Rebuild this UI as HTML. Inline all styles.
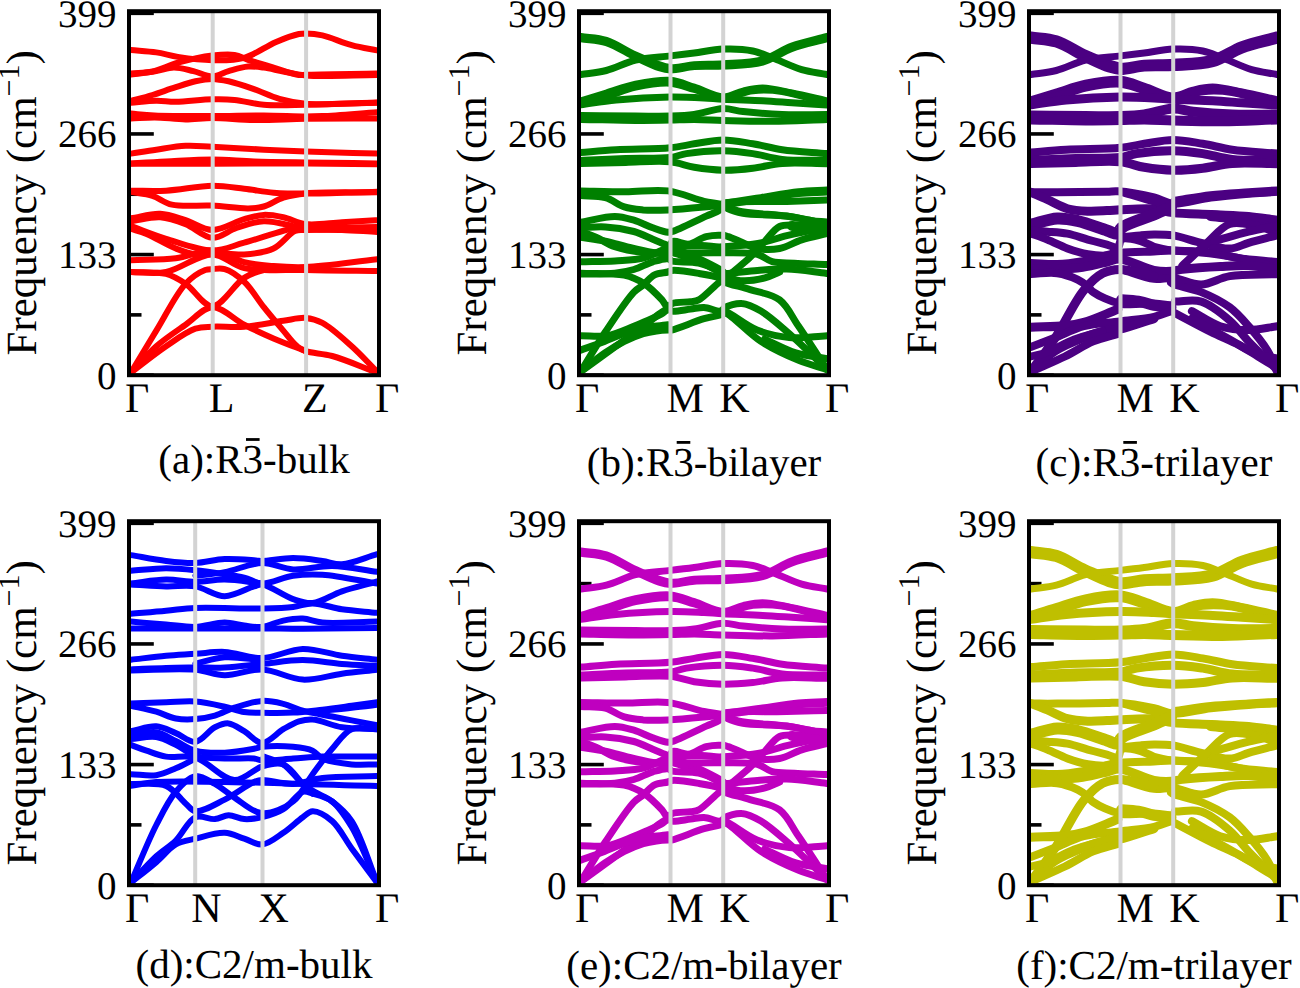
<!DOCTYPE html><html><head><meta charset="utf-8"><style>html,body{margin:0;padding:0;background:#fff;width:1300px;height:988px;overflow:hidden}svg{display:block}text{font-family:"Liberation Serif",serif;fill:#000;text-rendering:geometricPrecision}</style></head><body>
<svg width="1300" height="988" viewBox="0 0 1300 988">
<rect width="1300" height="988" fill="#fff"/>
<line x1="129.0" y1="375.20" x2="153.8" y2="375.20" stroke="#000" stroke-width="3.6"/>
<line x1="129.0" y1="254.57" x2="153.8" y2="254.57" stroke="#000" stroke-width="3.6"/>
<line x1="129.0" y1="133.94" x2="153.8" y2="133.94" stroke="#000" stroke-width="3.6"/>
<line x1="129.0" y1="13.31" x2="153.8" y2="13.31" stroke="#000" stroke-width="3.6"/>
<line x1="129.0" y1="314.88" x2="141.5" y2="314.88" stroke="#000" stroke-width="3.6"/>
<line x1="129.0" y1="194.25" x2="141.5" y2="194.25" stroke="#000" stroke-width="3.6"/>
<line x1="129.0" y1="73.62" x2="141.5" y2="73.62" stroke="#000" stroke-width="3.6"/>
<clipPath id="cpa"><rect x="129.0" y="11.2" width="250.0" height="364.0"/></clipPath>
<g clip-path="url(#cpa)" fill="none" stroke="#ff0000" stroke-width="6" stroke-linecap="round" stroke-linejoin="round">
<path d="M130.9,50.0 C139.4,50.8 148.2,51.2 156.3,52.4 C163.8,53.5 169.8,55.6 177.8,56.9 C187.9,58.4 201.1,60.1 212.4,60.2 C223.2,60.3 233.9,60.7 244.2,57.8 C255.0,54.9 265.7,46.4 275.5,42.2 C283.8,38.7 293.4,35.2 298.9,34.0 C301.9,33.4 303.0,33.4 305.8,33.4 C310.1,33.5 316.2,34.0 322.4,35.4 C330.9,37.3 342.2,42.6 351.7,45.1 C360.4,47.5 368.6,48.7 377.1,50.4"/>
<path d="M130.9,73.5 C138.1,72.8 145.0,73.1 152.4,71.5 C160.6,69.8 168.6,65.3 177.8,62.7 C188.4,59.8 202.1,56.7 212.4,55.5 C220.5,54.6 228.1,53.9 234.5,54.9 C239.7,55.7 242.9,58.0 248.1,59.8 C255.3,62.2 265.1,65.1 273.5,67.6 C282.0,70.2 293.1,74.4 298.9,75.0 C301.9,75.4 302.3,74.8 305.8,74.7 C317.0,74.2 353.3,73.9 377.1,73.5"/>
<path d="M130.9,74.5 C139.4,73.3 148.6,72.4 156.3,71.1 C162.7,70.1 167.9,67.7 173.9,67.6 C180.2,67.6 187.0,69.7 193.4,71.1 C199.8,72.6 206.3,76.5 212.4,76.4 C218.0,76.3 222.9,72.7 228.6,71.1 C234.8,69.4 242.0,67.1 248.1,66.6 C253.6,66.2 258.3,66.9 263.8,67.6 C269.9,68.4 276.6,70.3 283.3,71.5 C290.5,72.9 296.1,74.6 305.8,75.4 C322.8,76.9 353.3,75.2 377.1,75.0"/>
<path d="M130.9,100.8 C138.1,98.9 145.1,97.2 152.4,95.0 C160.1,92.6 168.4,89.5 175.8,87.2 C182.6,85.0 189.0,82.7 195.4,81.3 C201.2,80.0 206.8,78.9 212.4,78.9 C217.9,79.0 222.6,80.0 228.6,81.3 C236.2,83.0 245.6,86.2 254.0,89.1 C262.5,92.1 270.7,96.4 279.4,98.9 C288.0,101.3 294.8,102.8 305.8,103.8 C323.7,105.3 353.3,103.1 377.1,102.8"/>
<path d="M130.9,102.8 C139.4,102.1 148.4,100.9 156.3,100.8 C163.2,100.7 168.3,101.9 175.8,101.8 C186.1,101.7 201.7,99.5 212.4,99.3 C220.7,99.1 226.6,99.1 234.5,99.9 C243.6,100.7 253.1,103.9 263.8,104.7 C276.5,105.8 289.9,105.0 305.8,104.7 C326.4,104.4 353.3,103.2 377.1,102.4"/>
<path d="M130.9,113.5 C138.7,114.2 144.8,115.0 154.4,115.5 C169.4,116.2 193.6,116.1 212.4,116.1 C230.0,116.1 247.5,115.4 263.8,115.5 C278.5,115.6 295.0,116.5 305.8,116.5 C312.6,116.5 315.3,116.4 322.4,116.1 C335.4,115.5 358.9,113.5 377.1,112.2"/>
<path d="M130.9,118.4 C138.7,118.1 146.0,117.4 154.4,117.4 C164.0,117.5 175.6,119.3 185.6,119.4 C194.9,119.4 202.5,118.0 212.4,118.0 C224.7,118.0 239.4,119.8 254.0,120.0 C270.3,120.2 287.1,119.1 305.8,118.8 C327.7,118.5 353.3,118.5 377.1,118.4"/>
<path d="M130.9,153.6 C139.4,152.3 147.5,150.9 156.3,149.7 C165.7,148.3 176.0,146.2 185.6,145.8 C194.7,145.3 202.0,146.3 212.4,146.7 C226.7,147.4 247.5,148.8 263.8,149.7 C278.5,150.4 289.9,151.0 305.8,151.6 C326.4,152.4 353.3,152.9 377.1,153.6"/>
<path d="M130.9,163.4 C142.6,162.7 153.5,162.0 166.1,161.4 C180.5,160.7 197.4,159.4 212.4,159.4 C226.6,159.5 239.4,160.9 254.0,161.4 C270.3,161.9 287.1,162.1 305.8,162.4 C327.7,162.7 353.3,163.0 377.1,163.4"/>
<path d="M130.9,163.7 C158.1,163.7 184.3,163.8 212.4,163.7 C242.5,163.7 276.7,163.2 305.8,163.4 C331.2,163.5 353.3,164.0 377.1,164.3"/>
<path d="M130.9,190.7 C142.6,190.7 153.6,191.4 166.1,190.7 C180.5,190.0 198.4,185.9 212.4,185.8 C224.0,185.7 233.8,187.6 244.2,188.8 C254.2,189.9 263.5,191.8 273.5,192.7 C284.0,193.5 292.9,193.6 305.8,193.6 C324.9,193.7 353.3,192.3 377.1,191.7"/>
<path d="M130.9,191.9 C138.1,193.2 145.5,193.7 152.4,195.8 C159.2,197.9 164.0,202.8 171.9,204.6 C182.8,207.1 199.3,204.9 212.4,205.6 C224.7,206.2 238.7,208.7 248.1,208.5 C254.4,208.4 258.4,208.0 263.8,206.5 C270.1,204.8 276.4,199.9 283.3,197.7 C290.4,195.5 296.1,194.4 305.8,193.4 C322.8,191.7 353.3,192.7 377.1,192.3"/>
<path d="M130.9,218.3 C140.7,216.8 150.8,213.3 160.2,213.8 C169.0,214.2 177.1,217.6 185.6,220.2 C194.5,223.0 203.1,229.9 212.4,230.0 C222.5,230.1 234.8,221.8 244.2,219.2 C251.5,217.2 257.2,215.3 263.8,214.9 C270.3,214.6 276.6,215.9 283.3,217.3 C290.6,218.8 297.3,223.1 305.8,224.1 C316.3,225.4 330.0,222.8 341.9,222.2 C353.7,221.5 365.4,220.9 377.1,220.2"/>
<path d="M130.9,221.2 C140.7,219.9 150.9,216.7 160.2,217.3 C169.0,217.9 177.2,220.9 185.6,224.1 C194.6,227.6 203.6,237.4 212.4,237.8 C220.5,238.2 228.0,230.8 236.4,228.0 C245.1,225.2 254.5,221.6 263.8,221.2 C273.3,220.8 285.3,224.5 293.1,226.1 C298.2,227.1 300.4,228.3 305.8,229.0 C314.7,230.1 330.0,229.5 341.9,230.0 C353.7,230.5 365.4,231.3 377.1,231.9"/>
<path d="M130.9,226.1 C142.6,230.3 153.4,234.9 166.1,238.8 C180.4,243.2 198.4,250.4 212.4,250.5 C224.0,250.5 232.4,245.8 244.2,242.7 C259.2,238.7 284.3,229.5 295.0,228.0 C299.9,227.3 300.6,228.1 305.8,228.0 C319.1,227.9 353.3,227.4 377.1,227.1"/>
<path d="M130.9,229.0 C136.1,230.6 140.6,231.5 146.5,233.9 C154.9,237.3 166.9,245.0 175.8,248.5 C182.9,251.3 189.0,253.8 195.4,254.4 C201.2,254.9 205.8,252.6 212.4,252.5 C221.3,252.2 233.9,255.1 244.2,254.4 C254.3,253.7 265.0,252.6 273.5,248.5 C281.8,244.6 288.7,233.5 295.0,231.0 C299.0,229.4 300.6,230.3 305.8,230.0 C319.1,229.3 353.3,229.3 377.1,229.0"/>
<path d="M130.9,260.3 C145.9,259.6 161.7,260.1 175.8,258.3 C188.7,256.7 200.7,249.7 212.4,250.5 C223.5,251.3 233.7,259.6 244.2,262.2 C254.1,264.7 263.5,265.3 273.5,266.1 C284.0,267.0 293.0,267.6 305.8,267.1 C324.9,266.4 353.3,261.9 377.1,259.3"/>
<path d="M130.9,272.0 C142.6,272.0 153.8,274.3 166.1,272.0 C180.7,269.3 198.4,254.1 212.4,254.4 C224.0,254.7 231.6,265.3 244.2,268.1 C261.1,271.8 284.5,269.6 305.8,270.0 C328.7,270.6 353.3,270.7 377.1,271.0"/>
<path d="M130.9,372.6 C139.4,358.6 147.5,345.0 156.3,330.6 C165.7,315.4 175.8,294.1 185.6,283.7 C192.1,276.9 200.0,272.0 205.2,270.0 C208.0,268.9 209.6,269.2 212.4,269.1 C215.9,268.8 220.3,267.8 224.7,269.1 C230.7,270.8 238.2,276.2 244.2,281.8 C251.4,288.3 257.2,298.9 263.8,307.2 C270.2,315.2 277.3,323.6 283.3,330.6 C288.2,336.4 292.6,342.7 297.0,346.2 C300.0,348.7 301.9,349.7 305.8,351.1 C312.1,353.4 322.3,353.3 332.2,356.0 C345.3,359.6 362.1,367.1 377.1,372.6"/>
<path d="M130.9,272.0 C142.6,272.6 156.3,271.3 166.1,273.9 C173.8,276.0 178.9,279.3 185.6,283.7 C194.2,289.3 203.1,306.3 212.4,306.2 C222.6,306.0 234.4,283.9 244.2,277.9 C251.1,273.6 255.9,271.8 263.8,270.0 C275.0,267.6 291.8,268.7 305.8,268.1"/>
<path d="M130.9,372.6 C139.4,363.8 147.2,354.2 156.3,346.2 C165.4,338.3 176.0,331.4 185.6,324.7 C194.7,318.5 203.0,307.5 212.4,307.2 C222.4,306.8 233.7,319.4 244.2,324.7 C254.1,329.8 263.5,334.1 273.5,338.4 C284.0,342.9 295.0,346.9 305.8,351.1"/>
<path d="M130.9,372.6 C142.6,363.8 154.7,353.9 166.1,346.2 C176.1,339.5 186.6,331.6 195.4,328.7 C201.6,326.6 205.8,327.1 212.4,326.7 C221.3,326.2 233.1,327.5 244.2,326.7 C256.6,325.8 272.1,322.4 283.3,320.8 C291.8,319.6 298.9,317.4 305.8,317.9 C311.8,318.4 316.4,319.7 322.4,322.8 C331.2,327.4 342.5,338.0 351.7,346.2 C360.7,354.3 368.6,363.2 377.1,371.6"/>
</g>
<line x1="212.7" y1="11.2" x2="212.7" y2="375.2" stroke="#d3d3d3" stroke-width="4"/>
<line x1="306.1" y1="11.2" x2="306.1" y2="375.2" stroke="#d3d3d3" stroke-width="4"/>
<rect x="129.0" y="11.2" width="250" height="364" fill="none" stroke="#000" stroke-width="4"/>
<text x="116.5" y="388.5" font-size="39" text-anchor="end">0</text>
<text x="116.5" y="267.9" font-size="39" text-anchor="end">133</text>
<text x="116.5" y="147.2" font-size="39" text-anchor="end">266</text>
<text x="116.5" y="26.6" font-size="39" text-anchor="end">399</text>
<text x="125.0" y="411.8" font-size="42">Γ</text>
<text x="208.7" y="411.8" font-size="42">L</text>
<text x="302.1" y="411.8" font-size="42">Z</text>
<text x="375.0" y="411.8" font-size="42">Γ</text>
<text transform="translate(36.2,202.8) rotate(-90)" font-size="43" text-anchor="middle">Frequency (cm<tspan font-size="30" dy="-17">−1</tspan><tspan dy="17">)</tspan></text>
<text x="254.0" y="472.7" font-size="41" text-anchor="middle">(a):R3-bulk</text>
<rect x="246.0" y="438.1" width="13.6" height="2.8" fill="#000"/>
<line x1="579.0" y1="375.20" x2="603.8" y2="375.20" stroke="#000" stroke-width="3.6"/>
<line x1="579.0" y1="254.57" x2="603.8" y2="254.57" stroke="#000" stroke-width="3.6"/>
<line x1="579.0" y1="133.94" x2="603.8" y2="133.94" stroke="#000" stroke-width="3.6"/>
<line x1="579.0" y1="13.31" x2="603.8" y2="13.31" stroke="#000" stroke-width="3.6"/>
<line x1="579.0" y1="314.88" x2="591.5" y2="314.88" stroke="#000" stroke-width="3.6"/>
<line x1="579.0" y1="194.25" x2="591.5" y2="194.25" stroke="#000" stroke-width="3.6"/>
<line x1="579.0" y1="73.62" x2="591.5" y2="73.62" stroke="#000" stroke-width="3.6"/>
<clipPath id="cpb"><rect x="579.0" y="11.2" width="250.0" height="364.0"/></clipPath>
<g clip-path="url(#cpb)" fill="none" stroke="#008000" stroke-width="7" stroke-linecap="round" stroke-linejoin="round">
<path d="M580.9,36.4 C589.4,37.7 597.8,37.5 606.3,40.3 C616.0,43.3 625.3,50.5 635.6,54.9 C646.6,59.6 659.8,66.4 670.4,67.6 C679.0,68.6 685.9,65.3 694.2,64.7 C703.4,64.0 712.8,64.4 723.2,63.7 C735.3,62.9 750.7,63.1 762.6,59.8 C773.4,56.8 781.5,50.0 791.9,46.1 C803.0,42.0 815.4,39.6 827.1,36.4"/>
<path d="M580.9,38.7 C589.4,40.0 597.8,39.9 606.3,42.6 C616.0,45.7 626.3,52.9 635.6,57.3 C643.8,61.1 652.6,65.5 659.1,67.6 C663.4,69.0 665.9,69.8 670.4,70.0 C676.9,70.2 685.9,67.3 694.2,66.6 C703.4,65.9 712.8,66.7 723.2,66.1 C735.3,65.3 750.7,65.4 762.6,62.1 C773.4,59.2 781.5,52.3 791.9,48.5 C803.0,44.4 815.4,42.0 827.1,38.7"/>
<path d="M580.9,74.5 C589.4,73.2 597.6,72.7 606.3,70.5 C615.8,68.2 625.3,62.6 635.6,60.2 C646.6,57.6 659.9,57.2 670.4,55.9 C679.1,54.8 685.9,54.0 694.2,53.0 C703.4,51.8 713.4,49.4 723.2,49.1 C733.0,48.7 744.1,49.2 752.8,51.0 C760.2,52.5 765.3,55.2 772.4,57.8 C781.2,61.2 792.1,66.8 801.7,69.6 C810.3,72.1 818.6,72.8 827.1,74.5"/>
<path d="M580.9,100.8 C589.4,98.2 597.5,95.7 606.3,93.0 C615.7,90.2 625.3,86.3 635.6,84.2 C646.6,82.0 660.0,79.4 670.4,80.3 C679.2,81.1 685.9,84.6 694.2,87.2 C703.4,90.0 714.4,96.8 723.2,96.9 C730.4,97.1 736.4,92.5 743.1,91.1 C749.6,89.6 755.5,88.1 762.6,88.1 C771.4,88.2 781.7,91.0 791.9,93.0 C803.1,95.2 815.4,98.2 827.1,100.8"/>
<path d="M580.9,103.2 C589.4,101.0 597.6,99.1 606.3,96.5 C615.8,93.8 625.3,89.4 635.6,87.2 C646.6,84.8 660.0,82.5 670.4,83.2 C679.2,83.9 685.9,87.2 694.2,89.5 C703.4,92.0 713.4,97.7 723.2,97.9 C733.0,98.1 742.9,91.7 752.8,90.7 C762.6,89.6 771.4,89.9 782.2,91.5 C795.6,93.4 812.1,99.3 827.1,103.2"/>
<path d="M580.9,104.7 C592.6,103.1 603.1,101.1 616.1,99.9 C632.2,98.3 654.4,97.1 670.4,96.9 C682.9,96.8 694.4,97.4 704.0,97.9 C711.3,98.3 715.6,98.9 723.2,99.3 C733.9,99.9 750.4,100.2 762.6,100.8 C773.1,101.4 781.7,102.1 791.9,102.8 C803.1,103.5 815.4,104.3 827.1,105.1"/>
<path d="M580.9,115.5 C599.1,115.7 619.4,116.0 635.6,116.1 C648.5,116.1 659.9,116.4 670.4,116.1 C679.1,115.8 685.9,115.6 694.2,114.5 C703.4,113.3 714.4,108.9 723.2,108.6 C730.4,108.5 735.3,110.7 743.1,111.6 C753.9,112.8 768.7,114.0 782.2,114.5 C796.6,115.1 812.1,114.5 827.1,114.5"/>
<path d="M580.9,119.4 C599.1,119.7 619.4,120.3 635.6,120.4 C648.5,120.4 659.9,120.2 670.4,120.0 C679.1,119.8 685.9,119.4 694.2,119.4 C703.4,119.4 712.2,120.1 723.2,120.4 C737.4,120.8 755.5,121.5 772.4,121.3 C790.1,121.2 808.9,120.0 827.1,119.4"/>
<path d="M580.9,152.6 C592.6,151.6 603.1,150.5 616.1,149.7 C632.2,148.7 656.0,149.2 670.4,147.7 C680.0,146.8 685.9,145.1 694.2,143.8 C703.4,142.4 713.4,139.9 723.2,139.9 C733.0,139.9 743.0,142.2 752.8,143.8 C762.7,145.4 771.3,148.1 782.2,149.7 C795.5,151.6 812.1,152.3 827.1,153.6"/>
<path d="M580.9,160.4 C595.9,159.8 610.9,159.0 625.8,158.5 C640.7,158.0 659.3,158.9 670.4,157.5 C677.1,156.6 679.9,154.6 686.4,153.6 C696.1,152.0 711.6,150.5 723.2,150.7 C733.6,150.8 743.0,152.1 752.8,153.6 C762.7,155.1 771.3,158.3 782.2,159.4 C795.5,160.9 812.1,160.1 827.1,160.4"/>
<path d="M580.9,163.4 C595.9,163.0 610.9,162.6 625.8,162.4 C640.7,162.1 657.9,160.5 670.4,161.8 C679.6,162.8 685.9,165.9 694.2,167.3 C703.4,168.8 713.4,170.0 723.2,170.2 C733.0,170.4 743.0,169.4 752.8,168.2 C762.7,167.1 771.3,164.2 782.2,163.4 C795.5,162.3 812.1,163.6 827.1,163.7"/>
<path d="M580.7,190.9 C595.8,191.2 611.1,191.7 625.8,191.7 C640.1,191.7 654.5,189.2 667.9,190.9 C680.5,192.6 693.8,198.8 704.0,201.3 C711.3,203.0 717.2,203.3 723.2,205.0 C728.5,206.5 731.4,209.2 738.0,210.8 C749.8,213.8 774.7,214.3 789.2,216.5 C800.1,218.2 810.7,219.9 817.5,222.2 C821.7,223.6 823.9,225.3 827.1,226.9"/>
<path d="M580.7,195.6 C588.9,196.2 597.8,195.5 605.3,197.6 C612.3,199.5 617.8,204.9 624.3,206.9 C630.5,208.9 636.5,209.3 643.2,209.9 C650.9,210.4 658.9,210.2 667.9,209.9 C678.8,209.4 693.9,207.9 704.0,206.9 C711.4,206.3 715.7,205.9 723.2,205.0 C733.6,203.7 748.3,201.2 760.9,199.3 C773.4,197.4 786.9,194.9 798.6,193.6 C808.7,192.6 817.6,192.5 827.1,191.9"/>
<path d="M723.2,203.4 C735.7,201.5 748.3,199.5 760.9,197.6 C773.4,195.6 786.8,193.0 798.6,191.7 C808.7,190.6 817.6,190.5 827.1,189.9"/>
<path d="M580.7,222.2 C592.1,220.3 605.2,216.4 614.9,216.5 C622.2,216.6 627.6,218.4 633.9,220.2 C640.3,222.1 646.8,225.7 652.8,227.8 C658.1,229.7 664.3,232.1 667.9,232.3 C669.8,232.4 670.2,232.2 672.3,231.5 C678.4,229.7 697.5,220.0 706.2,216.1 C711.5,213.7 716.3,212.6 719.2,210.3 C721.2,208.7 722.0,206.3 723.2,205.0 C723.9,204.1 723.9,203.6 725.3,203.0 C731.7,200.5 768.6,202.0 786.8,201.5 C801.6,201.0 813.4,200.5 826.7,200.1"/>
<path d="M580.7,227.8 C588.9,227.5 596.9,226.3 605.3,226.9 C614.5,227.4 625.4,229.2 633.9,231.5 C640.9,233.5 646.9,236.7 652.8,239.2 C658.1,241.4 664.3,244.2 667.9,245.6 C669.8,246.4 670.2,246.5 672.3,247.4 C677.5,249.5 690.5,254.9 698.7,258.7 C706.1,262.1 715.1,266.6 719.2,269.1 C721.1,270.2 721.8,270.9 723.2,271.8"/>
<path d="M667.9,250.3 C669.4,251.0 670.2,251.4 672.3,252.3 C677.5,254.3 690.6,258.0 698.7,261.4 C706.1,264.6 712.4,268.3 719.2,271.8"/>
<path d="M580.7,237.2 C588.9,238.5 596.9,239.4 605.3,241.1 C614.5,243.0 623.9,246.7 633.9,248.5 C644.6,250.6 662.1,255.9 667.9,252.5 C671.3,250.4 669.4,243.2 672.3,241.5 C675.8,239.6 683.1,244.7 688.6,244.1 C694.4,243.3 700.3,238.1 706.2,236.6 C711.6,235.3 718.3,235.0 722.4,235.3 C724.8,235.4 725.9,235.9 728.2,236.6 C732.1,237.9 738.0,240.7 742.9,242.7 C747.8,244.7 752.0,247.5 757.5,248.5 C764.0,249.8 772.4,249.9 779.6,248.5 C787.1,247.1 794.0,242.2 801.7,239.8 C809.7,237.2 818.4,235.7 826.7,233.7"/>
<path d="M580.7,231.5 C585.8,233.4 590.7,234.9 596.0,237.2 C602.0,239.9 607.8,244.3 614.9,246.8 C623.2,249.7 634.1,251.5 643.2,252.5 C651.7,253.3 662.9,252.2 667.9,252.5 C670.0,252.5 670.0,252.7 672.3,252.8 C680.0,253.2 715.9,252.8 722.4,252.8 C723.9,252.8 723.8,252.8 725.3,252.8 C730.3,253.0 749.1,252.2 757.5,254.4 C763.6,256.0 766.6,260.1 772.2,261.6 C778.7,263.4 786.2,262.7 794.3,263.2 C804.0,263.8 815.9,264.1 826.7,264.6"/>
<path d="M580.7,261.8 C592.1,261.5 604.1,261.5 614.9,260.9 C624.8,260.2 634.3,260.3 643.2,258.1 C651.9,256.1 658.8,250.6 667.9,248.5 C678.1,246.2 692.2,245.7 701.7,245.6 C708.5,245.6 713.1,246.9 719.2,247.0 C725.9,247.0 733.0,246.3 740.0,245.6 C747.2,244.9 754.5,244.2 762.0,242.7 C770.1,241.0 778.2,237.8 786.8,235.7 C796.2,233.3 809.0,231.1 816.4,229.4 C820.7,228.4 823.3,227.7 826.7,226.9"/>
<path d="M580.7,274.1 C592.1,273.8 605.2,274.2 614.9,273.2 C622.2,272.4 627.6,271.3 633.9,269.5 C640.3,267.6 646.8,263.7 652.8,261.8 C658.0,260.3 664.4,258.2 667.9,258.7 C669.9,259.0 670.1,260.4 672.3,261.1 C677.4,262.5 690.6,261.2 698.7,263.0 C706.1,264.7 715.1,268.8 719.2,270.8 C721.1,271.7 721.7,272.7 723.2,273.2 C724.7,273.6 725.8,273.4 728.2,273.4 C734.0,273.2 747.8,271.1 757.5,270.4 C767.3,269.7 776.3,268.7 786.8,269.1 C799.1,269.4 813.4,271.9 826.7,273.4"/>
<path d="M723.2,280.8 C725.8,278.3 727.9,276.3 731.2,273.4 C736.1,269.0 744.3,262.9 750.1,257.3 C755.5,252.1 760.0,246.3 765.0,241.1 C769.8,236.1 774.2,229.0 779.6,226.5 C784.2,224.3 788.4,225.1 794.3,224.9 C803.0,224.7 815.9,225.9 826.7,226.5"/>
<path d="M723.2,205.0 C724.8,206.3 726.0,207.7 728.2,208.9 C731.7,210.7 736.6,212.1 742.9,213.2 C753.5,215.1 774.3,214.6 786.8,216.1 C796.3,217.3 804.2,219.6 811.5,220.6 C817.1,221.4 821.6,221.5 826.7,222.0"/>
<path d="M791.9,225.9 C798.4,227.1 805.3,228.6 811.5,229.4 C816.8,230.1 821.6,230.3 826.7,230.8" stroke-width="10"/>
<path d="M723.2,276.3 C729.7,277.8 736.1,280.5 742.9,280.8 C750.0,281.1 758.4,279.6 765.0,277.9 C770.4,276.4 774.7,273.9 779.6,272.0"/>
<path d="M580.7,371.6 C588.9,358.4 596.6,345.1 605.3,332.0 C614.3,318.6 626.6,299.6 633.9,292.1 C637.4,288.5 639.7,287.9 642.8,285.3 C646.5,282.2 650.2,277.1 654.6,274.9 C658.6,272.9 664.6,272.9 667.9,272.0 C669.8,271.5 670.2,270.7 672.3,270.4 C677.5,269.9 690.5,272.0 698.7,273.4 C706.0,274.6 715.2,276.1 719.2,277.9 C721.2,278.7 722.1,279.8 723.2,280.6 C724.0,281.2 724.1,281.7 725.3,282.3 C729.0,284.3 741.5,286.8 750.1,289.6 C759.6,292.6 771.6,293.9 779.6,299.9 C787.8,306.1 791.7,316.4 798.6,326.3 C807.2,338.9 817.6,355.2 827.1,369.7"/>
<path d="M580.7,273.2 C595.2,273.8 612.7,272.5 624.3,275.1 C632.5,277.0 638.2,279.7 644.4,283.7 C650.9,287.9 657.8,295.4 662.0,299.9 C664.6,302.8 665.9,307.2 667.9,307.4 C669.4,307.5 670.1,304.4 672.3,303.5 C676.2,301.8 685.7,302.4 690.5,301.7 C693.8,301.2 695.6,301.5 698.7,299.9 C704.3,297.2 715.0,285.1 719.2,282.3 C721.0,281.3 721.8,281.2 723.2,280.6"/>
<path d="M580.7,371.6 C592.1,363.4 604.1,354.9 614.9,347.0 C624.8,339.8 634.1,332.8 643.2,326.3 C651.7,320.3 663.2,309.4 667.9,309.1 C669.6,309.0 669.8,310.7 671.6,311.1 C675.4,311.8 684.7,309.8 690.5,309.1 C695.4,308.5 699.3,307.2 704.0,307.4 C709.4,307.6 717.5,312.1 721.0,311.1 C723.0,310.5 722.9,308.4 724.9,307.4 C728.4,305.5 736.2,303.0 741.9,303.5 C748.1,303.9 754.2,307.2 760.9,311.1 C769.7,316.2 779.9,325.7 789.2,333.7 C798.8,342.1 810.6,353.7 817.5,360.3 C821.6,364.2 823.9,366.6 827.1,369.7"/>
<path d="M580.7,335.7 C589.6,335.7 598.6,337.2 607.3,335.7 C616.3,334.1 624.9,329.9 633.9,326.3 C643.4,322.4 657.4,316.4 663.0,313.0 C665.4,311.5 666.2,310.4 667.9,309.1"/>
<path d="M580.7,371.6 C588.9,365.3 597.5,358.0 605.3,352.7 C611.9,348.2 617.8,344.6 624.3,341.4 C630.5,338.3 637.4,335.5 643.2,333.7 C648.0,332.3 652.3,331.6 656.5,331.0 C660.4,330.4 665.1,330.1 667.9,330.0 C669.4,330.0 669.8,330.3 671.6,330.0 C677.1,329.1 694.9,321.3 704.0,318.7 C710.5,316.8 717.4,316.0 721.0,314.8 C722.8,314.2 723.1,312.8 724.9,313.0 C731.0,313.8 748.3,333.4 760.9,341.4 C772.9,349.0 786.7,355.4 798.6,360.3 C808.6,364.4 817.6,366.6 827.1,369.7"/>
<path d="M721.0,311.1 C722.3,311.1 723.1,310.6 724.9,311.1 C730.6,312.6 745.9,325.6 757.0,330.0 C767.4,334.2 777.9,336.6 789.2,337.6 C801.2,338.7 814.5,336.3 827.1,335.7"/>
<path d="M580.7,350.1 C587.9,347.5 594.4,345.3 602.4,342.3 C612.3,338.6 624.5,332.4 635.6,329.4 C646.3,326.6 657.1,326.3 667.9,324.7"/>
<path d="M764.6,339.2 C775.0,343.8 785.2,349.6 795.8,352.9 C806.1,356.0 816.7,356.8 827.1,358.7"/>
</g>
<line x1="670.5" y1="11.2" x2="670.5" y2="375.2" stroke="#d3d3d3" stroke-width="4"/>
<line x1="723.2" y1="11.2" x2="723.2" y2="375.2" stroke="#d3d3d3" stroke-width="4"/>
<rect x="579.0" y="11.2" width="250" height="364" fill="none" stroke="#000" stroke-width="4"/>
<text x="566.5" y="388.5" font-size="39" text-anchor="end">0</text>
<text x="566.5" y="267.9" font-size="39" text-anchor="end">133</text>
<text x="566.5" y="147.2" font-size="39" text-anchor="end">266</text>
<text x="566.5" y="26.6" font-size="39" text-anchor="end">399</text>
<text x="575.0" y="411.8" font-size="42">Γ</text>
<text x="666.5" y="411.8" font-size="42">M</text>
<text x="719.2" y="411.8" font-size="42">K</text>
<text x="825.0" y="411.8" font-size="42">Γ</text>
<text transform="translate(486.2,202.8) rotate(-90)" font-size="43" text-anchor="middle">Frequency (cm<tspan font-size="30" dy="-17">−1</tspan><tspan dy="17">)</tspan></text>
<text x="704.0" y="475.6" font-size="41" text-anchor="middle">(b):R3-bilayer</text>
<rect x="676.7" y="441.0" width="13.6" height="2.8" fill="#000"/>
<line x1="1029.0" y1="375.20" x2="1053.8" y2="375.20" stroke="#000" stroke-width="3.6"/>
<line x1="1029.0" y1="254.57" x2="1053.8" y2="254.57" stroke="#000" stroke-width="3.6"/>
<line x1="1029.0" y1="133.94" x2="1053.8" y2="133.94" stroke="#000" stroke-width="3.6"/>
<line x1="1029.0" y1="13.31" x2="1053.8" y2="13.31" stroke="#000" stroke-width="3.6"/>
<line x1="1029.0" y1="314.88" x2="1041.5" y2="314.88" stroke="#000" stroke-width="3.6"/>
<line x1="1029.0" y1="194.25" x2="1041.5" y2="194.25" stroke="#000" stroke-width="3.6"/>
<line x1="1029.0" y1="73.62" x2="1041.5" y2="73.62" stroke="#000" stroke-width="3.6"/>
<clipPath id="cpc"><rect x="1029.0" y="11.2" width="250.0" height="364.0"/></clipPath>
<g clip-path="url(#cpc)" fill="none" stroke="#4b0082" stroke-width="8" stroke-linecap="round" stroke-linejoin="round">
<path d="M1030.9,36.4 C1039.4,37.7 1047.8,37.5 1056.3,40.3 C1066.0,43.3 1075.3,50.5 1085.6,54.9 C1096.6,59.6 1109.8,66.4 1120.4,67.6 C1129.0,68.6 1135.9,65.3 1144.2,64.7 C1153.4,64.0 1162.8,64.4 1173.2,63.7 C1185.3,62.9 1200.7,63.1 1212.6,59.8 C1223.4,56.8 1231.5,50.0 1241.9,46.1 C1253.0,42.0 1265.4,39.6 1277.1,36.4" stroke-width="10"/>
<path d="M1030.9,38.7 C1039.4,40.0 1047.8,39.9 1056.3,42.6 C1066.0,45.7 1076.3,52.9 1085.6,57.3 C1093.8,61.1 1102.6,65.5 1109.1,67.6 C1113.4,69.0 1115.9,69.8 1120.4,70.0 C1126.9,70.2 1135.9,67.3 1144.2,66.6 C1153.4,65.9 1162.8,66.7 1173.2,66.1 C1185.3,65.3 1200.7,65.4 1212.6,62.1 C1223.4,59.2 1231.5,52.3 1241.9,48.5 C1253.0,44.4 1265.4,42.0 1277.1,38.7" stroke-width="10"/>
<path d="M1030.9,74.5 C1039.4,73.2 1047.6,72.7 1056.3,70.5 C1065.8,68.2 1075.3,62.6 1085.6,60.2 C1096.6,57.6 1109.9,57.2 1120.4,55.9 C1129.1,54.8 1135.9,54.0 1144.2,53.0 C1153.4,51.8 1163.4,49.4 1173.2,49.1 C1183.0,48.7 1194.1,49.2 1202.8,51.0 C1210.2,52.5 1215.3,55.2 1222.4,57.8 C1231.2,61.2 1242.1,66.8 1251.7,69.6 C1260.3,72.1 1268.6,72.8 1277.1,74.5" stroke-width="7"/>
<path d="M1030.9,100.8 C1039.4,98.2 1047.5,95.7 1056.3,93.0 C1065.7,90.2 1075.3,86.3 1085.6,84.2 C1096.6,82.0 1110.0,79.4 1120.4,80.3 C1129.2,81.1 1135.9,84.6 1144.2,87.2 C1153.4,90.0 1164.4,96.8 1173.2,96.9 C1180.4,97.1 1186.4,92.5 1193.1,91.1 C1199.6,89.6 1205.5,88.1 1212.6,88.1 C1221.4,88.2 1231.7,91.0 1241.9,93.0 C1253.1,95.2 1265.4,98.2 1277.1,100.8" stroke-width="9"/>
<path d="M1030.9,103.2 C1039.4,101.0 1047.6,99.1 1056.3,96.5 C1065.8,93.8 1075.3,89.4 1085.6,87.2 C1096.6,84.8 1110.0,82.5 1120.4,83.2 C1129.2,83.9 1135.9,87.2 1144.2,89.5 C1153.4,92.0 1163.4,97.7 1173.2,97.9 C1183.0,98.1 1192.9,91.7 1202.8,90.7 C1212.6,89.6 1221.4,89.9 1232.2,91.5 C1245.6,93.4 1262.1,99.3 1277.1,103.2" stroke-width="9"/>
<path d="M1030.9,104.7 C1042.6,103.1 1053.1,101.1 1066.1,99.9 C1082.2,98.3 1104.4,97.1 1120.4,96.9 C1132.9,96.8 1144.4,97.4 1154.0,97.9 C1161.3,98.3 1165.6,98.9 1173.2,99.3 C1183.9,99.9 1200.4,100.2 1212.6,100.8 C1223.1,101.4 1231.7,102.1 1241.9,102.8 C1253.1,103.5 1265.4,104.3 1277.1,105.1" stroke-width="9"/>
<path d="M1030.9,115.5 C1049.1,115.7 1069.4,116.0 1085.6,116.1 C1098.5,116.1 1109.9,116.4 1120.4,116.1 C1129.1,115.8 1135.9,115.6 1144.2,114.5 C1153.4,113.3 1164.4,108.9 1173.2,108.6 C1180.4,108.5 1185.3,110.7 1193.1,111.6 C1203.9,112.8 1218.7,114.0 1232.2,114.5 C1246.6,115.1 1262.1,114.5 1277.1,114.5" stroke-width="10"/>
<path d="M1030.9,119.4 C1049.1,119.7 1069.4,120.3 1085.6,120.4 C1098.5,120.4 1109.9,120.2 1120.4,120.0 C1129.1,119.8 1135.9,119.4 1144.2,119.4 C1153.4,119.4 1162.2,120.1 1173.2,120.4 C1187.4,120.8 1205.5,121.5 1222.4,121.3 C1240.1,121.2 1258.9,120.0 1277.1,119.4" stroke-width="10"/>
<path d="M1030.9,152.6 C1042.6,151.6 1053.1,150.5 1066.1,149.7 C1082.2,148.7 1106.0,149.2 1120.4,147.7 C1130.0,146.8 1135.9,145.1 1144.2,143.8 C1153.4,142.4 1163.4,139.9 1173.2,139.9 C1183.0,139.9 1193.0,142.2 1202.8,143.8 C1212.7,145.4 1221.3,148.1 1232.2,149.7 C1245.5,151.6 1262.1,152.3 1277.1,153.6" stroke-width="8"/>
<path d="M1030.9,160.4 C1045.9,159.8 1060.9,159.0 1075.8,158.5 C1090.7,158.0 1109.3,158.9 1120.4,157.5 C1127.1,156.6 1129.9,154.6 1136.4,153.6 C1146.1,152.0 1161.6,150.5 1173.2,150.7 C1183.6,150.8 1193.0,152.1 1202.8,153.6 C1212.7,155.1 1221.3,158.3 1232.2,159.4 C1245.5,160.9 1262.1,160.1 1277.1,160.4" stroke-width="9"/>
<path d="M1030.9,163.4 C1045.9,163.0 1060.9,162.6 1075.8,162.4 C1090.7,162.1 1107.9,160.5 1120.4,161.8 C1129.6,162.8 1135.9,165.9 1144.2,167.3 C1153.4,168.8 1163.4,170.0 1173.2,170.2 C1183.0,170.4 1193.0,169.4 1202.8,168.2 C1212.7,167.1 1221.3,164.2 1232.2,163.4 C1245.5,162.3 1262.1,163.6 1277.1,163.7" stroke-width="9"/>
<path d="M1031.1,192.3 C1039.8,192.3 1047.2,192.3 1057.3,192.3 C1071.2,192.2 1096.3,191.9 1106.9,191.7 C1111.9,191.6 1113.2,191.0 1117.9,191.3 C1126.4,191.9 1144.0,195.0 1154.0,197.5 C1161.4,199.3 1165.5,203.1 1172.9,203.7 C1183.3,204.4 1198.1,199.2 1210.8,197.5 C1223.4,195.9 1236.9,194.7 1248.6,193.7 C1258.8,192.9 1267.6,192.5 1277.0,191.8"/>
<path d="M1174.8,201.3 C1186.8,199.4 1198.6,197.0 1210.8,195.6 C1223.2,194.2 1236.9,193.6 1248.6,192.8 C1258.8,192.1 1267.6,191.5 1277.0,190.9" stroke-width="9"/>
<path d="M1031.1,192.3 C1036.5,194.7 1041.6,196.9 1047.3,199.5 C1053.7,202.4 1060.6,206.7 1067.4,208.7 C1074.1,210.6 1081.1,210.9 1087.8,211.2 C1094.2,211.5 1101.2,210.9 1106.9,210.6 C1111.6,210.4 1114.4,210.1 1119.8,209.8 C1128.4,209.4 1144.3,208.0 1154.0,208.9 C1161.3,209.5 1165.5,211.7 1172.9,212.6 C1183.3,213.9 1198.2,213.9 1210.8,214.5 C1223.4,215.2 1237.0,215.4 1248.6,216.4 C1258.8,217.4 1267.6,219.0 1277.0,220.2" stroke-width="9"/>
<path d="M1210.8,215.5 C1223.4,217.1 1237.1,217.2 1248.6,220.2 C1259.0,222.9 1267.6,227.8 1277.0,231.6" stroke-width="11"/>
<path d="M1121.6,191.8 C1132.4,195.0 1144.9,198.9 1154.0,201.3 C1160.6,203.0 1165.4,203.8 1171.0,205.1"/>
<path d="M1031.1,224.7 C1039.8,222.6 1049.1,218.9 1057.3,218.5 C1064.4,218.1 1070.3,219.4 1077.6,221.0 C1086.6,223.0 1099.5,228.1 1106.9,230.4 C1111.4,231.8 1115.3,234.6 1117.9,233.7 C1119.8,233.0 1119.3,229.8 1121.6,227.8 C1126.9,223.4 1145.0,218.4 1154.0,214.5 C1160.6,211.7 1165.4,209.5 1171.0,207.0" stroke-width="12"/>
<path d="M1031.1,230.8 C1036.5,231.1 1041.6,231.3 1047.3,231.7 C1053.7,232.2 1060.8,232.4 1067.4,233.7 C1074.3,235.0 1081.1,237.7 1087.8,239.6 C1094.2,241.3 1101.4,243.2 1106.9,244.6 C1111.1,245.7 1115.4,248.6 1117.9,247.4 C1120.1,246.3 1119.1,240.6 1121.6,239.1 C1125.3,237.1 1134.9,239.6 1140.6,241.0 C1145.5,242.3 1149.1,245.2 1154.0,246.7 C1159.7,248.5 1165.5,249.6 1172.9,250.5 C1183.3,251.8 1199.1,250.9 1210.8,252.4 C1221.0,253.7 1229.0,256.6 1239.2,258.1 C1250.9,259.8 1264.4,260.6 1277.0,261.9"/>
<path d="M1031.1,233.5 C1036.5,235.5 1041.7,237.3 1047.3,239.6 C1053.7,242.1 1060.6,245.9 1067.4,248.4 C1074.1,250.8 1081.0,253.0 1087.8,254.2 C1094.2,255.4 1101.2,255.9 1106.9,255.6 C1111.6,255.3 1114.4,253.7 1119.8,253.0 C1128.4,252.0 1144.3,251.9 1154.0,251.5 C1161.2,251.1 1166.0,250.4 1172.9,250.5 C1181.4,250.6 1191.9,251.5 1201.3,252.4 C1210.8,253.3 1219.1,254.2 1229.7,256.2 C1243.5,258.8 1261.3,263.8 1277.0,267.5"/>
<path d="M1121.6,237.3 C1128.0,236.6 1134.8,235.9 1140.6,235.4 C1145.4,234.9 1149.1,234.5 1154.0,234.4 C1159.8,234.4 1166.0,234.3 1172.9,235.4 C1181.5,236.7 1191.8,240.7 1201.3,242.9 C1210.8,245.1 1221.3,249.0 1229.7,248.6 C1236.7,248.3 1241.7,244.9 1248.6,242.9 C1257.1,240.5 1267.6,237.9 1277.0,235.4"/>
<path d="M1182.4,265.6 C1190.6,258.1 1198.9,250.1 1207.0,242.9 C1214.6,236.2 1221.1,226.8 1229.7,224.0 C1238.2,221.3 1249.6,224.8 1258.1,225.9 C1265.1,226.8 1270.7,228.4 1277.0,229.7"/>
<path d="M1214.6,241.0 C1225.9,237.9 1237.8,234.2 1248.6,231.6 C1258.5,229.2 1267.6,227.8 1277.0,225.9"/>
<path d="M1031.1,263.0 C1039.8,263.3 1048.6,264.3 1057.3,264.0 C1065.8,263.7 1074.4,262.5 1082.7,261.1 C1090.9,259.6 1100.5,257.1 1106.9,255.2 C1111.3,253.9 1114.2,252.6 1117.9,251.3"/>
<path d="M1031.1,268.9 C1039.8,269.0 1048.6,269.5 1057.3,269.3 C1065.8,269.0 1074.4,268.5 1082.7,267.3 C1090.9,266.1 1100.1,263.6 1106.9,262.0 C1111.9,260.9 1114.5,258.8 1119.8,259.0 C1128.5,259.4 1144.5,268.6 1154.0,270.4 C1160.6,271.6 1165.9,271.6 1171.0,271.3 C1175.2,271.1 1177.5,270.0 1182.4,269.4 C1191.3,268.4 1208.5,267.2 1220.3,266.6 C1230.4,266.0 1239.2,265.2 1248.6,265.6 C1258.1,266.1 1267.6,268.2 1277.0,269.4" stroke-width="9"/>
<path d="M1121.6,269.4 C1132.4,272.6 1144.6,277.8 1154.0,278.9 C1161.1,279.7 1166.0,277.3 1172.9,278.0 C1181.5,278.7 1191.9,284.9 1201.3,284.6 C1210.8,284.3 1218.9,277.9 1229.7,276.1 C1243.4,273.8 1261.3,274.8 1277.0,274.2"/>
<path d="M1030.8,371.7 C1039.0,360.3 1047.2,350.1 1055.4,337.6 C1064.8,323.3 1074.4,301.6 1083.8,290.3 C1090.1,282.5 1096.1,276.6 1102.7,273.2 C1108.2,270.4 1113.1,269.5 1119.8,269.4 C1129.2,269.3 1142.6,273.8 1154.0,276.1" stroke-width="9"/>
<path d="M1171.0,282.7 C1172.3,283.3 1172.9,283.8 1174.8,284.6 C1179.6,286.4 1192.5,288.6 1201.3,292.1 C1210.8,296.0 1221.6,301.3 1229.7,307.3 C1237.1,312.8 1242.6,319.3 1248.6,326.2 C1255.2,333.7 1262.7,342.7 1267.6,350.8 C1271.8,357.8 1273.9,364.7 1277.0,371.7"/>
<path d="M1031.1,273.9 C1039.8,273.7 1049.2,272.0 1057.3,273.2 C1064.6,274.2 1072.1,277.0 1077.6,279.6 C1081.7,281.6 1085.0,284.1 1087.8,286.5 C1090.0,288.3 1090.5,290.2 1093.3,292.1 C1098.6,295.8 1110.1,301.5 1119.8,303.5 C1130.2,305.7 1144.6,303.0 1154.0,303.5 C1160.7,303.9 1165.4,304.8 1171.0,305.4"/>
<path d="M1121.6,299.7 C1128.0,300.4 1134.8,300.5 1140.6,301.6 C1145.5,302.5 1149.2,304.5 1154.0,305.4 C1159.3,306.4 1165.4,306.7 1171.0,307.3" stroke-width="11"/>
<path d="M1174.8,301.6 C1183.7,301.6 1192.7,299.0 1201.3,301.6 C1211.1,304.6 1221.6,313.5 1229.7,320.5 C1237.1,326.9 1241.6,334.0 1248.6,341.4 C1257.1,350.2 1267.6,360.3 1277.0,369.8"/>
<path d="M1191.9,311.1 C1201.3,316.1 1210.5,323.1 1220.3,326.2 C1229.5,329.2 1239.2,330.0 1248.6,330.0 C1258.1,330.0 1267.6,327.5 1277.0,326.2"/>
<path d="M1174.8,313.0 C1186.8,319.3 1199.4,326.3 1210.8,331.9 C1220.8,336.8 1230.8,340.7 1239.2,345.2 C1246.2,348.9 1251.8,352.7 1258.1,356.5 C1264.4,360.3 1270.7,364.1 1277.0,367.9"/>
<path d="M1191.9,318.6 C1204.5,325.6 1218.0,333.1 1229.7,339.5 C1239.8,345.0 1249.4,351.5 1258.1,354.6 C1264.9,357.0 1270.7,357.1 1277.0,358.4"/>
<path d="M1030.8,327.2 C1042.1,326.7 1055.2,326.9 1064.9,325.8 C1072.1,325.1 1076.7,324.4 1083.8,322.4 C1093.6,319.7 1106.5,313.6 1117.9,309.2" stroke-width="9"/>
<path d="M1030.8,347.0 C1039.0,343.9 1046.9,340.9 1055.4,337.6 C1064.5,334.0 1073.6,328.9 1083.8,326.2 C1094.9,323.3 1107.9,323.1 1119.8,321.5 C1131.3,319.9 1144.6,318.9 1154.0,316.8 C1160.8,315.2 1165.4,313.0 1171.0,311.1"/>
<path d="M1030.8,371.7 C1039.0,364.7 1046.5,356.5 1055.4,350.8 C1064.2,345.2 1074.7,341.1 1083.8,337.6 C1091.7,334.5 1099.9,331.7 1106.5,330.4 C1111.5,329.4 1114.4,330.1 1119.8,329.1 C1128.6,327.3 1142.6,322.1 1154.0,318.6" stroke-width="9"/>
<path d="M1030.8,356.5 C1035.8,355.2 1040.2,354.8 1045.9,352.7 C1054.0,349.8 1064.7,343.1 1074.3,339.5 C1083.7,335.9 1093.3,333.8 1102.7,331.0"/>
<path d="M1030.8,371.7 C1042.1,366.6 1054.1,361.8 1064.9,356.5 C1074.8,351.6 1083.9,345.2 1093.3,341.4 C1101.6,337.9 1109.7,336.3 1117.9,333.8"/>
</g>
<line x1="1120.5" y1="11.2" x2="1120.5" y2="375.2" stroke="#d3d3d3" stroke-width="4"/>
<line x1="1173.2" y1="11.2" x2="1173.2" y2="375.2" stroke="#d3d3d3" stroke-width="4"/>
<rect x="1029.0" y="11.2" width="250" height="364" fill="none" stroke="#000" stroke-width="4"/>
<text x="1016.5" y="388.5" font-size="39" text-anchor="end">0</text>
<text x="1016.5" y="267.9" font-size="39" text-anchor="end">133</text>
<text x="1016.5" y="147.2" font-size="39" text-anchor="end">266</text>
<text x="1016.5" y="26.6" font-size="39" text-anchor="end">399</text>
<text x="1025.0" y="411.8" font-size="42">Γ</text>
<text x="1116.5" y="411.8" font-size="42">M</text>
<text x="1169.2" y="411.8" font-size="42">K</text>
<text x="1275.0" y="411.8" font-size="42">Γ</text>
<text transform="translate(936.2,202.8) rotate(-90)" font-size="43" text-anchor="middle">Frequency (cm<tspan font-size="30" dy="-17">−1</tspan><tspan dy="17">)</tspan></text>
<text x="1154.0" y="475.6" font-size="41" text-anchor="middle">(c):R3-trilayer</text>
<rect x="1123.3" y="441.0" width="13.6" height="2.8" fill="#000"/>
<line x1="129.0" y1="885.20" x2="153.8" y2="885.20" stroke="#000" stroke-width="3.6"/>
<line x1="129.0" y1="764.57" x2="153.8" y2="764.57" stroke="#000" stroke-width="3.6"/>
<line x1="129.0" y1="643.94" x2="153.8" y2="643.94" stroke="#000" stroke-width="3.6"/>
<line x1="129.0" y1="523.31" x2="153.8" y2="523.31" stroke="#000" stroke-width="3.6"/>
<line x1="129.0" y1="824.88" x2="141.5" y2="824.88" stroke="#000" stroke-width="3.6"/>
<line x1="129.0" y1="704.25" x2="141.5" y2="704.25" stroke="#000" stroke-width="3.6"/>
<line x1="129.0" y1="583.62" x2="141.5" y2="583.62" stroke="#000" stroke-width="3.6"/>
<clipPath id="cpd"><rect x="129.0" y="521.2" width="250.0" height="364.0"/></clipPath>
<g clip-path="url(#cpd)" fill="none" stroke="#0000ff" stroke-width="6" stroke-linecap="round" stroke-linejoin="round">
<path d="M130.9,555.1 C142.6,557.1 154.9,559.7 166.1,561.0 C176.3,562.2 185.6,563.3 195.4,563.0 C205.2,562.6 214.7,559.5 224.7,559.1 C234.9,558.6 249.5,560.0 256.0,560.4 C258.8,560.6 259.3,561.0 262.2,561.0 C268.6,561.0 282.9,558.1 293.1,558.1 C303.0,558.1 313.6,559.8 322.4,561.0 C329.6,562.0 334.5,564.7 341.9,564.3 C352.0,563.8 365.4,557.6 377.1,554.2"/>
<path d="M130.9,570.8 C142.6,569.9 154.9,568.3 166.1,568.2 C176.3,568.2 186.0,569.2 195.4,570.2 C204.2,571.1 212.5,572.4 220.8,573.7 C228.8,574.9 237.0,575.8 244.2,577.6 C250.7,579.2 255.4,583.2 262.2,583.5 C271.1,583.8 282.8,577.1 293.1,575.7 C302.9,574.3 311.1,574.0 322.4,574.7 C337.8,575.7 358.9,580.5 377.1,583.5"/>
<path d="M195.4,575.7 C205.2,574.5 214.4,574.0 224.7,572.1 C236.5,570.0 250.3,563.2 262.2,563.0 C273.0,562.8 282.1,568.8 293.1,569.4 C305.3,570.1 318.7,565.6 332.2,565.9 C346.6,566.2 362.1,569.8 377.1,571.8"/>
<path d="M130.9,583.5 C142.6,582.2 154.9,579.7 166.1,579.6 C176.3,579.4 185.6,581.9 195.4,581.9 C205.2,581.9 214.3,579.4 224.7,579.6 C236.4,579.7 249.7,582.2 262.2,583.5"/>
<path d="M130.9,584.5 C142.6,585.1 154.9,586.1 166.1,586.4 C176.3,586.7 185.7,584.8 195.4,586.4 C205.3,588.0 214.9,596.2 224.7,596.2 C234.5,596.2 247.2,588.3 254.0,586.4 C257.6,585.4 258.7,584.1 262.2,584.5 C269.3,585.2 283.8,596.0 293.1,599.1 C300.2,601.5 305.6,603.7 312.6,603.0 C321.5,602.2 331.6,594.8 341.9,591.3 C353.0,587.5 365.4,584.8 377.1,581.5"/>
<path d="M130.9,613.8 C142.6,612.8 154.9,611.9 166.1,610.8 C176.3,609.9 183.6,608.4 195.4,607.9 C213.1,607.1 244.2,608.9 262.2,608.5 C274.5,608.2 284.0,608.0 293.1,606.9 C300.4,606.1 305.5,603.3 312.6,603.4 C321.4,603.5 331.7,607.7 341.9,609.3 C353.1,610.9 365.4,611.6 377.1,612.8"/>
<path d="M130.9,621.6 C142.6,622.6 154.9,623.6 166.1,624.5 C176.3,625.3 185.6,627.2 195.4,626.9 C205.2,626.5 215.9,622.5 224.7,622.6 C231.9,622.6 237.8,624.8 244.2,625.5 C250.3,626.2 256.0,627.5 262.2,626.9 C269.0,626.1 276.3,622.0 283.3,620.6 C289.9,619.3 296.4,618.3 302.8,618.6 C309.4,619.0 314.2,621.8 322.4,622.6 C336.0,623.8 358.9,621.9 377.1,621.6"/>
<path d="M130.9,628.4 C152.4,628.4 173.7,628.4 195.4,628.4 C217.5,628.4 242.7,628.3 262.2,628.4 C277.4,628.5 287.3,628.8 302.8,628.8 C323.9,628.8 352.3,628.3 377.1,628.0"/>
<path d="M130.9,659.7 C142.6,658.4 154.9,656.8 166.1,655.8 C176.3,654.9 185.6,654.5 195.4,653.8 C205.2,653.2 214.4,651.4 224.7,651.9 C236.5,652.4 249.5,658.5 262.2,658.1 C275.5,657.7 289.4,649.3 302.8,648.9 C316.0,648.6 329.2,654.0 341.9,655.8 C353.9,657.5 365.4,658.4 377.1,659.7"/>
<path d="M130.9,669.4 C142.6,668.9 154.9,668.2 166.1,667.9 C176.3,667.6 185.6,667.6 195.4,667.5 C205.2,667.4 214.3,668.0 224.7,667.5 C236.4,666.9 249.5,665.2 262.2,664.0 C275.5,662.7 289.4,660.0 302.8,660.1 C316.0,660.1 329.2,663.0 341.9,664.0 C353.9,664.9 365.4,665.3 377.1,665.9"/>
<path d="M195.4,663.6 C205.2,661.5 214.3,658.1 224.7,657.3 C236.4,656.5 249.7,659.2 262.2,660.1"/>
<path d="M130.9,670.4 C152.4,670.2 178.1,668.3 195.4,669.8 C207.1,670.9 214.3,675.2 224.7,675.3 C236.4,675.5 249.5,668.9 262.2,669.4 C275.5,670.0 289.4,679.0 302.8,679.6 C315.9,680.2 329.2,675.4 341.9,673.7 C353.9,672.2 365.4,671.1 377.1,669.8"/>
<path d="M130.9,703.4 C142.6,703.1 154.9,702.6 166.1,702.3 C176.3,702.0 185.7,700.8 195.4,701.5 C205.2,702.2 215.9,704.8 224.7,706.8 C231.9,708.4 237.8,711.0 244.2,712.0 C250.3,713.0 255.4,712.7 262.2,712.8 C271.1,713.0 282.9,713.2 293.1,712.6 C303.0,712.1 312.6,710.8 322.4,709.7 C332.2,708.6 342.3,707.1 351.7,705.8 C360.5,704.6 368.6,703.4 377.1,702.3"/>
<path d="M130.9,705.8 C139.4,707.7 148.5,709.4 156.3,711.7 C163.3,713.7 169.2,717.3 175.8,718.5 C182.3,719.7 188.9,719.6 195.4,719.1 C201.9,718.6 208.5,717.4 214.9,715.6 C221.5,713.7 227.3,710.1 234.5,707.7 C242.8,705.1 253.6,701.4 262.2,700.9 C269.7,700.5 276.5,702.2 283.3,703.8 C290.0,705.5 295.6,708.7 302.8,710.7 C311.6,713.1 323.4,714.8 332.2,716.5 C339.3,718.0 344.8,719.1 351.7,720.4 C359.6,722.0 368.6,723.7 377.1,725.3"/>
<path d="M322.4,710.7 C332.2,709.7 342.3,708.8 351.7,707.7 C360.5,706.8 368.6,705.8 377.1,704.8"/>
<path d="M130.9,731.2 C139.4,729.6 148.5,725.7 156.3,726.3 C163.3,726.8 169.4,730.6 175.8,733.1 C182.4,735.8 189.1,742.6 195.4,741.9 C202.1,741.2 208.7,730.4 214.9,727.3 C219.7,724.9 224.0,722.9 228.6,723.4 C233.7,723.9 238.9,728.2 244.2,731.2 C250.1,734.6 256.0,742.9 262.2,742.9 C269.0,742.9 276.7,733.0 283.3,729.2 C288.8,726.1 293.8,723.0 298.9,721.4 C303.5,720.0 307.2,719.1 312.6,719.5 C320.6,719.9 331.6,725.6 341.9,727.3 C353.0,729.1 365.4,728.6 377.1,729.2"/>
<path d="M130.9,735.1 C139.4,734.1 148.5,731.0 156.3,732.2 C163.4,733.3 169.4,737.9 175.8,741.0 C182.4,744.1 188.0,748.7 195.4,750.7 C204.0,753.1 214.9,753.0 224.7,752.7 C234.5,752.4 247.3,750.0 254.0,748.8 C257.6,748.1 258.6,747.3 262.2,746.8 C269.2,746.0 284.0,745.9 293.1,746.8 C300.4,747.5 307.4,748.3 312.6,750.7 C316.7,752.6 317.9,756.5 322.4,758.5 C329.3,761.8 342.2,763.5 351.7,764.4 C360.4,765.3 368.6,764.4 377.1,764.4"/>
<path d="M130.9,739.0 C139.4,738.4 148.5,735.9 156.3,737.1 C163.4,738.1 169.4,741.8 175.8,744.9 C182.5,748.0 187.9,753.5 195.4,755.8 C203.9,758.5 214.9,758.1 224.7,758.5 C234.5,759.0 247.3,757.8 254.0,758.5 C257.6,759.0 258.6,760.2 262.2,760.5 C269.2,761.1 282.9,759.2 293.1,758.5 C303.0,757.9 311.1,757.0 322.4,756.6 C337.8,756.1 358.9,756.6 377.1,756.6"/>
<path d="M130.9,744.9 C136.1,746.8 141.0,748.9 146.5,750.7 C152.7,752.8 158.8,755.4 166.1,756.6 C174.8,758.0 185.3,754.7 195.4,757.6 C207.9,761.1 222.5,779.7 234.5,780.0 C244.4,780.4 253.4,768.9 262.2,766.4 C269.5,764.3 276.9,762.1 283.3,764.4 C290.6,767.1 297.5,778.6 302.8,783.9 C306.7,787.8 309.4,790.5 312.6,793.7"/>
<path d="M130.9,774.2 C139.4,774.5 148.5,776.3 156.3,775.2 C163.4,774.1 169.4,771.0 175.8,768.3 C182.5,765.5 188.9,761.8 195.4,758.5"/>
<path d="M130.9,783.9 C142.6,784.6 156.6,782.0 166.1,785.9 C174.3,789.3 180.2,798.9 185.6,803.5 C189.4,806.7 191.0,810.7 195.4,811.3 C202.3,812.3 215.1,804.3 224.7,799.6 C234.7,794.6 247.1,784.8 254.0,782.0 C257.4,780.6 258.6,780.2 262.2,780.0 C269.2,779.7 283.0,784.3 293.1,783.9 C303.0,783.6 311.0,779.4 322.4,778.1 C337.7,776.3 358.9,776.8 377.1,776.1"/>
<path d="M130.9,785.9 C139.4,784.6 143.6,782.9 156.3,782.0 C193.5,779.5 303.5,784.6 377.1,785.9"/>
<path d="M130.9,882.6 C139.4,863.4 147.9,841.4 156.3,825.0 C162.9,812.2 168.5,800.3 175.8,791.8 C181.8,784.9 188.6,777.1 195.4,776.1 C201.6,775.2 208.6,780.5 214.9,783.9 C221.7,787.6 227.3,793.1 234.5,797.6 C242.8,802.9 252.5,812.5 262.2,813.3 C272.1,814.0 284.7,808.0 293.1,801.5 C301.5,795.0 306.0,783.1 312.6,774.2 C319.1,765.5 325.4,756.5 332.2,748.8 C338.4,741.6 344.0,732.4 351.7,729.2 C359.1,726.2 368.6,729.2 377.1,729.2"/>
<path d="M130.9,882.6 C139.4,873.8 148.2,863.7 156.3,856.2 C163.0,850.1 169.6,846.7 175.8,840.6 C182.7,833.9 188.0,820.2 195.4,817.2 C201.3,814.7 209.0,819.6 214.9,819.1 C219.9,818.7 223.9,815.3 228.6,815.2 C233.6,815.1 238.8,818.7 244.2,819.1 C250.0,819.5 256.1,818.6 262.2,817.2 C269.1,815.5 276.8,813.3 283.3,809.3 C290.4,805.1 297.1,793.3 302.8,791.8 C306.4,790.8 308.9,792.6 312.6,793.7 C318.1,795.3 326.2,797.0 332.2,801.5 C339.5,807.1 345.3,816.4 351.7,826.9 C360.5,841.5 368.6,864.1 377.1,882.6"/>
<path d="M130.9,882.6 C139.4,875.8 148.5,868.8 156.3,862.1 C163.3,856.1 168.9,848.4 175.8,844.5 C182.0,841.1 188.2,840.5 195.4,838.7 C204.1,836.5 216.0,832.4 224.7,832.8 C231.9,833.1 237.9,836.7 244.2,838.7 C250.4,840.6 256.1,845.1 262.2,844.5 C269.1,843.9 276.6,837.3 283.3,832.8 C290.2,828.2 297.3,821.0 302.8,817.2 C306.6,814.6 308.8,811.5 312.6,811.3 C318.0,811.1 326.2,816.0 332.2,821.1 C339.5,827.4 344.7,838.8 351.7,848.4 C359.6,859.2 368.6,871.2 377.1,882.6"/>
<path d="M263.8,756.6 C270.3,759.2 277.2,760.4 283.3,764.4 C290.3,769.0 296.9,779.1 302.8,783.9 C307.1,787.4 310.2,789.1 314.6,791.8 C319.8,794.9 326.4,797.2 332.2,801.5 C338.9,806.6 345.6,811.9 351.7,821.1 C361.2,835.3 368.6,862.1 377.1,882.6"/>
</g>
<line x1="195.2" y1="521.2" x2="195.2" y2="885.2" stroke="#d3d3d3" stroke-width="4"/>
<line x1="262.5" y1="521.2" x2="262.5" y2="885.2" stroke="#d3d3d3" stroke-width="4"/>
<rect x="129.0" y="521.2" width="250" height="364" fill="none" stroke="#000" stroke-width="4"/>
<text x="116.5" y="898.5" font-size="39" text-anchor="end">0</text>
<text x="116.5" y="777.9" font-size="39" text-anchor="end">133</text>
<text x="116.5" y="657.2" font-size="39" text-anchor="end">266</text>
<text x="116.5" y="536.6" font-size="39" text-anchor="end">399</text>
<text x="125.0" y="921.8" font-size="42">Γ</text>
<text x="191.2" y="921.8" font-size="42">N</text>
<text x="258.5" y="921.8" font-size="42">X</text>
<text x="375.0" y="921.8" font-size="42">Γ</text>
<text transform="translate(36.2,712.8) rotate(-90)" font-size="43" text-anchor="middle">Frequency (cm<tspan font-size="30" dy="-17">−1</tspan><tspan dy="17">)</tspan></text>
<text x="254.0" y="978.0" font-size="41" text-anchor="middle">(d):C2/m-bulk</text>
<line x1="579.0" y1="885.20" x2="603.8" y2="885.20" stroke="#000" stroke-width="3.6"/>
<line x1="579.0" y1="764.57" x2="603.8" y2="764.57" stroke="#000" stroke-width="3.6"/>
<line x1="579.0" y1="643.94" x2="603.8" y2="643.94" stroke="#000" stroke-width="3.6"/>
<line x1="579.0" y1="523.31" x2="603.8" y2="523.31" stroke="#000" stroke-width="3.6"/>
<line x1="579.0" y1="824.88" x2="591.5" y2="824.88" stroke="#000" stroke-width="3.6"/>
<line x1="579.0" y1="704.25" x2="591.5" y2="704.25" stroke="#000" stroke-width="3.6"/>
<line x1="579.0" y1="583.62" x2="591.5" y2="583.62" stroke="#000" stroke-width="3.6"/>
<clipPath id="cpe"><rect x="579.0" y="521.2" width="250.0" height="364.0"/></clipPath>
<g clip-path="url(#cpe)" fill="none" stroke="#bf00bf" stroke-width="7" stroke-linecap="round" stroke-linejoin="round">
<path d="M580.9,550.9 C589.4,552.2 597.8,552.1 606.3,554.8 C616.0,557.9 625.3,565.0 635.6,569.5 C646.6,574.2 659.8,580.9 670.4,582.2 C679.0,583.1 685.9,579.9 694.2,579.2 C703.4,578.5 712.8,578.9 723.2,578.2 C735.3,577.4 750.7,577.6 762.6,574.3 C773.4,571.4 781.5,564.5 791.9,560.7 C803.0,556.6 815.4,554.1 827.1,550.9"/>
<path d="M580.9,553.2 C589.4,554.5 597.8,554.4 606.3,557.1 C616.0,560.2 626.3,567.4 635.6,571.8 C643.8,575.7 652.6,580.1 659.1,582.2 C663.4,583.6 665.9,584.3 670.4,584.5 C676.9,584.7 685.9,581.8 694.2,581.2 C703.4,580.4 712.8,581.2 723.2,580.6 C735.3,579.9 750.7,580.0 762.6,576.7 C773.4,573.7 781.5,566.8 791.9,563.0 C803.0,558.9 815.4,556.5 827.1,553.2"/>
<path d="M580.9,589.0 C589.4,587.7 597.6,587.3 606.3,585.1 C615.8,582.7 625.3,577.2 635.6,574.7 C646.6,572.1 659.9,571.7 670.4,570.4 C679.1,569.4 685.9,568.6 694.2,567.5 C703.4,566.3 713.4,563.9 723.2,563.6 C733.0,563.3 744.1,563.8 752.8,565.5 C760.2,567.0 765.3,569.7 772.4,572.4 C781.2,575.7 792.1,581.3 801.7,584.1 C810.3,586.6 818.6,587.4 827.1,589.0"/>
<path d="M580.9,615.4 C589.4,612.8 597.5,610.2 606.3,607.6 C615.7,604.7 625.3,600.9 635.6,598.8 C646.6,596.5 660.0,594.0 670.4,594.9 C679.2,595.6 685.9,599.1 694.2,601.7 C703.4,604.6 714.4,611.3 723.2,611.5 C730.4,611.6 736.4,607.1 743.1,605.6 C749.6,604.2 755.5,602.6 762.6,602.7 C771.4,602.7 781.7,605.6 791.9,607.6 C803.1,609.7 815.4,612.8 827.1,615.4"/>
<path d="M580.9,617.7 C589.4,615.5 597.6,613.6 606.3,611.1 C615.8,608.3 625.3,603.9 635.6,601.7 C646.6,599.3 660.0,597.0 670.4,597.8 C679.2,598.4 685.9,601.7 694.2,604.0 C703.4,606.6 713.4,612.2 723.2,612.4 C733.0,612.7 742.9,606.3 752.8,605.2 C762.6,604.2 771.4,604.5 782.2,606.0 C795.6,607.9 812.1,613.8 827.1,617.7"/>
<path d="M580.9,619.3 C592.6,617.6 603.1,615.6 616.1,614.4 C632.2,612.8 654.4,611.7 670.4,611.5 C682.9,611.3 694.4,612.0 704.0,612.4 C711.3,612.8 715.6,613.4 723.2,613.8 C733.9,614.4 750.4,614.7 762.6,615.4 C773.1,615.9 781.7,616.6 791.9,617.3 C803.1,618.1 815.4,618.9 827.1,619.7"/>
<path d="M580.9,630.0 C599.1,630.2 619.4,630.5 635.6,630.6 C648.5,630.7 659.9,631.0 670.4,630.6 C679.1,630.3 685.9,630.2 694.2,629.0 C703.4,627.8 714.4,623.4 723.2,623.2 C730.4,623.0 735.3,625.3 743.1,626.1 C753.9,627.3 768.7,628.5 782.2,629.0 C796.6,629.6 812.1,629.0 827.1,629.0"/>
<path d="M580.9,633.9 C599.1,634.3 619.4,634.9 635.6,634.9 C648.5,634.9 659.9,634.7 670.4,634.5 C679.1,634.4 685.9,633.9 694.2,633.9 C703.4,634.0 712.2,634.6 723.2,634.9 C737.4,635.3 755.5,636.0 772.4,635.9 C790.1,635.7 808.9,634.6 827.1,633.9"/>
<path d="M580.9,667.1 C592.6,666.2 603.1,665.0 616.1,664.2 C632.2,663.3 656.0,663.7 670.4,662.3 C680.0,661.3 685.9,659.6 694.2,658.4 C703.4,657.0 713.4,654.5 723.2,654.4 C733.0,654.4 743.0,656.7 752.8,658.4 C762.7,660.0 771.3,662.7 782.2,664.2 C795.5,666.1 812.1,666.8 827.1,668.1"/>
<path d="M580.9,675.0 C595.9,674.3 610.9,673.5 625.8,673.0 C640.7,672.5 659.3,673.5 670.4,672.0 C677.1,671.1 679.9,669.2 686.4,668.1 C696.1,666.6 711.6,665.1 723.2,665.2 C733.6,665.3 743.0,666.7 752.8,668.1 C762.7,669.6 771.3,672.8 782.2,674.0 C795.5,675.5 812.1,674.6 827.1,675.0"/>
<path d="M580.9,677.9 C595.9,677.6 610.9,677.2 625.8,676.9 C640.7,676.7 657.9,675.0 670.4,676.3 C679.6,677.3 685.9,680.4 694.2,681.7 C703.4,683.1 713.4,684.1 723.2,684.3 C733.0,684.4 743.0,683.6 752.8,682.6 C762.7,681.5 771.3,678.7 782.2,677.9 C795.5,676.9 812.1,678.2 827.1,678.3"/>
<path d="M580.7,702.4 C595.8,702.6 611.1,703.1 625.8,703.1 C640.1,703.1 654.5,700.9 667.9,702.4 C680.5,703.9 693.8,709.3 704.0,711.5 C711.4,713.1 717.2,713.3 723.2,715.0 C728.5,716.5 731.4,719.2 738.0,720.8 C749.8,723.8 774.7,724.3 789.2,726.5 C800.1,728.2 810.7,729.9 817.5,732.2 C821.7,733.6 823.9,735.3 827.1,736.9"/>
<path d="M580.7,706.5 C588.9,707.1 597.8,706.3 605.3,708.2 C612.2,710.0 617.8,715.0 624.3,716.9 C630.5,718.8 636.5,719.3 643.2,719.9 C650.9,720.4 658.9,720.2 667.9,719.9 C678.8,719.4 693.9,717.9 704.0,716.9 C711.4,716.3 715.7,715.9 723.2,715.0 C733.6,713.7 748.3,711.5 760.9,709.8 C773.4,708.1 786.9,705.9 798.6,704.8 C808.7,703.9 817.6,703.8 827.1,703.3"/>
<path d="M723.2,713.4 C735.7,711.7 748.3,709.9 760.9,708.2 C773.4,706.5 786.9,704.2 798.6,703.1 C808.7,702.1 817.6,702.1 827.1,701.5"/>
<path d="M580.7,732.2 C592.1,730.3 605.2,726.4 614.9,726.5 C622.2,726.6 627.6,728.4 633.9,730.2 C640.3,732.1 646.8,735.7 652.8,737.8 C658.1,739.7 664.3,742.1 667.9,742.3 C669.8,742.4 670.2,742.2 672.3,741.5 C678.4,739.7 697.5,730.0 706.2,726.1 C711.5,723.7 716.3,722.6 719.2,720.3 C721.2,718.7 722.0,716.3 723.2,715.0 C723.9,714.1 723.9,713.6 725.3,713.0 C731.7,710.5 768.6,712.1 786.8,711.6 C801.6,711.2 813.4,710.8 826.7,710.4"/>
<path d="M580.7,737.8 C588.9,737.5 596.9,736.3 605.3,736.9 C614.5,737.4 625.4,739.2 633.9,741.5 C640.9,743.5 646.9,746.7 652.8,749.2 C658.1,751.4 664.3,754.2 667.9,755.6 C669.8,756.4 670.2,756.5 672.3,757.4 C677.5,759.5 690.5,764.9 698.7,768.7 C706.1,772.1 715.1,776.6 719.2,779.1 C721.1,780.2 721.8,780.9 723.2,781.8"/>
<path d="M667.9,760.3 C669.4,761.0 670.2,761.4 672.3,762.3 C677.5,764.3 690.6,768.0 698.7,771.4 C706.1,774.6 712.4,778.3 719.2,781.8"/>
<path d="M580.7,747.2 C588.9,748.5 596.9,749.4 605.3,751.1 C614.5,753.0 623.9,756.7 633.9,758.5 C644.6,760.6 662.1,765.9 667.9,762.5 C671.3,760.4 669.4,753.2 672.3,751.5 C675.8,749.6 683.1,754.7 688.6,754.1 C694.4,753.3 700.3,748.1 706.2,746.6 C711.6,745.3 718.3,745.0 722.4,745.3 C724.8,745.4 725.9,745.9 728.2,746.6 C732.1,747.9 738.0,750.7 742.9,752.7 C747.8,754.7 752.0,757.5 757.5,758.5 C764.0,759.8 772.4,759.9 779.6,758.5 C787.1,757.1 794.0,752.2 801.7,749.8 C809.7,747.2 818.4,745.7 826.7,743.7"/>
<path d="M580.7,741.5 C585.8,743.4 590.7,744.9 596.0,747.2 C602.0,749.9 607.8,754.3 614.9,756.8 C623.2,759.7 634.1,761.5 643.2,762.5 C651.7,763.3 662.9,762.2 667.9,762.5 C670.0,762.5 670.0,762.7 672.3,762.8 C680.0,763.2 715.9,762.8 722.4,762.8 C723.9,762.8 723.8,762.8 725.3,762.8 C730.3,763.0 749.1,762.2 757.5,764.4 C763.6,766.0 766.6,770.1 772.2,771.6 C778.7,773.4 786.2,772.7 794.3,773.2 C804.0,773.8 815.9,774.1 826.7,774.6"/>
<path d="M580.7,771.8 C592.1,771.5 604.1,771.5 614.9,770.9 C624.8,770.2 634.3,770.3 643.2,768.1 C651.9,766.1 658.8,760.6 667.9,758.5 C678.1,756.2 692.2,755.7 701.7,755.6 C708.5,755.6 713.1,756.9 719.2,757.0 C725.9,757.0 733.0,756.3 740.0,755.6 C747.2,754.9 754.5,754.2 762.0,752.7 C770.1,751.0 778.2,747.8 786.8,745.7 C796.2,743.3 809.0,741.1 816.4,739.4 C820.7,738.4 823.3,737.7 826.7,736.9"/>
<path d="M580.7,784.1 C592.1,783.8 605.2,784.2 614.9,783.2 C622.2,782.4 627.6,781.3 633.9,779.5 C640.3,777.6 646.8,773.7 652.8,771.8 C658.0,770.3 664.4,768.2 667.9,768.7 C669.9,769.0 670.1,770.4 672.3,771.1 C677.4,772.5 690.6,771.2 698.7,773.0 C706.1,774.7 715.1,778.8 719.2,780.8 C721.1,781.7 721.7,782.7 723.2,783.2 C724.7,783.6 725.8,783.4 728.2,783.4 C734.0,783.2 747.8,781.1 757.5,780.4 C767.3,779.7 776.3,778.7 786.8,779.1 C799.1,779.4 813.4,781.9 826.7,783.4"/>
<path d="M723.2,790.8 C725.8,788.3 727.9,786.3 731.2,783.4 C736.1,779.0 744.3,772.9 750.1,767.3 C755.5,762.1 760.0,756.3 765.0,751.1 C769.8,746.1 774.2,739.0 779.6,736.5 C784.2,734.3 788.4,735.1 794.3,734.9 C803.0,734.7 815.9,735.9 826.7,736.5"/>
<path d="M723.2,715.0 C724.8,716.3 726.0,717.7 728.2,718.9 C731.7,720.7 736.6,722.1 742.9,723.2 C753.5,725.1 774.3,724.6 786.8,726.1 C796.3,727.3 804.2,729.6 811.5,730.6 C817.1,731.4 821.6,731.5 826.7,732.0"/>
<path d="M791.9,735.9 C798.4,737.1 805.3,738.6 811.5,739.4 C816.8,740.1 821.6,740.3 826.7,740.8" stroke-width="10"/>
<path d="M723.2,786.3 C729.7,787.8 736.1,790.5 742.9,790.8 C750.0,791.1 758.4,789.6 765.0,787.9 C770.4,786.4 774.7,783.9 779.6,782.0"/>
<path d="M580.7,881.6 C588.9,868.4 596.6,855.1 605.3,842.0 C614.3,828.6 626.6,809.6 633.9,802.1 C637.4,798.5 639.7,797.9 642.8,795.3 C646.5,792.2 650.2,787.1 654.6,784.9 C658.6,782.9 664.6,782.9 667.9,782.0 C669.8,781.5 670.2,780.7 672.3,780.4 C677.5,779.9 690.5,782.0 698.7,783.4 C706.0,784.6 715.2,786.1 719.2,787.9 C721.2,788.7 722.1,789.8 723.2,790.6 C724.0,791.2 724.1,791.7 725.3,792.3 C729.0,794.3 741.5,796.8 750.1,799.6 C759.6,802.6 771.6,803.9 779.6,809.9 C787.8,816.1 791.7,826.4 798.6,836.3 C807.2,848.9 817.6,865.2 827.1,879.7"/>
<path d="M580.7,783.2 C595.2,783.8 612.7,782.5 624.3,785.1 C632.5,787.0 638.2,789.7 644.4,793.7 C650.9,797.9 657.8,805.4 662.0,809.9 C664.6,812.8 665.9,817.2 667.9,817.4 C669.4,817.5 670.1,814.4 672.3,813.5 C676.2,811.8 685.7,812.4 690.5,811.7 C693.8,811.2 695.6,811.5 698.7,809.9 C704.3,807.2 715.0,795.1 719.2,792.3 C721.0,791.3 721.8,791.2 723.2,790.6"/>
<path d="M580.7,881.6 C592.1,873.4 604.1,864.9 614.9,857.0 C624.8,849.8 634.1,842.8 643.2,836.3 C651.7,830.3 663.2,819.4 667.9,819.1 C669.6,819.0 669.8,820.7 671.6,821.1 C675.4,821.8 684.7,819.8 690.5,819.1 C695.4,818.5 699.3,817.2 704.0,817.4 C709.4,817.6 717.5,822.1 721.0,821.1 C723.0,820.5 722.9,818.4 724.9,817.4 C728.4,815.5 736.2,813.0 741.9,813.5 C748.1,813.9 754.2,817.2 760.9,821.1 C769.7,826.2 779.9,835.7 789.2,843.7 C798.8,852.1 810.6,863.7 817.5,870.3 C821.6,874.2 823.9,876.6 827.1,879.7"/>
<path d="M580.7,845.7 C589.6,845.7 598.6,847.2 607.3,845.7 C616.3,844.1 624.9,839.9 633.9,836.3 C643.4,832.4 657.4,826.4 663.0,823.0 C665.4,821.5 666.2,820.4 667.9,819.1"/>
<path d="M580.7,881.6 C588.9,875.3 597.5,868.0 605.3,862.7 C611.9,858.2 617.8,854.6 624.3,851.4 C630.5,848.3 637.4,845.5 643.2,843.7 C648.0,842.3 652.3,841.6 656.5,841.0 C660.4,840.4 665.1,840.1 667.9,840.0 C669.4,840.0 669.8,840.3 671.6,840.0 C677.1,839.1 694.9,831.3 704.0,828.7 C710.5,826.8 717.4,826.0 721.0,824.8 C722.8,824.2 723.1,822.8 724.9,823.0 C731.0,823.8 748.3,843.4 760.9,851.4 C772.9,859.0 786.7,865.4 798.6,870.3 C808.6,874.4 817.6,876.6 827.1,879.7"/>
<path d="M721.0,821.1 C722.3,821.1 723.1,820.6 724.9,821.1 C730.6,822.6 745.9,835.6 757.0,840.0 C767.4,844.2 777.9,846.6 789.2,847.6 C801.2,848.7 814.5,846.3 827.1,845.7"/>
<path d="M580.7,860.1 C587.9,857.5 594.4,855.3 602.4,852.3 C612.3,848.6 624.5,842.4 635.6,839.4 C646.3,836.6 657.1,836.3 667.9,834.7"/>
<path d="M764.6,849.2 C775.0,853.8 785.2,859.6 795.8,862.9 C806.1,866.0 816.7,866.8 827.1,868.7"/>
</g>
<line x1="670.5" y1="521.2" x2="670.5" y2="885.2" stroke="#d3d3d3" stroke-width="4"/>
<line x1="723.2" y1="521.2" x2="723.2" y2="885.2" stroke="#d3d3d3" stroke-width="4"/>
<rect x="579.0" y="521.2" width="250" height="364" fill="none" stroke="#000" stroke-width="4"/>
<text x="566.5" y="898.5" font-size="39" text-anchor="end">0</text>
<text x="566.5" y="777.9" font-size="39" text-anchor="end">133</text>
<text x="566.5" y="657.2" font-size="39" text-anchor="end">266</text>
<text x="566.5" y="536.6" font-size="39" text-anchor="end">399</text>
<text x="575.0" y="921.8" font-size="42">Γ</text>
<text x="666.5" y="921.8" font-size="42">M</text>
<text x="719.2" y="921.8" font-size="42">K</text>
<text x="825.0" y="921.8" font-size="42">Γ</text>
<text transform="translate(486.2,712.8) rotate(-90)" font-size="43" text-anchor="middle">Frequency (cm<tspan font-size="30" dy="-17">−1</tspan><tspan dy="17">)</tspan></text>
<text x="704.0" y="978.7" font-size="41" text-anchor="middle">(e):C2/m-bilayer</text>
<line x1="1029.0" y1="885.20" x2="1053.8" y2="885.20" stroke="#000" stroke-width="3.6"/>
<line x1="1029.0" y1="764.57" x2="1053.8" y2="764.57" stroke="#000" stroke-width="3.6"/>
<line x1="1029.0" y1="643.94" x2="1053.8" y2="643.94" stroke="#000" stroke-width="3.6"/>
<line x1="1029.0" y1="523.31" x2="1053.8" y2="523.31" stroke="#000" stroke-width="3.6"/>
<line x1="1029.0" y1="824.88" x2="1041.5" y2="824.88" stroke="#000" stroke-width="3.6"/>
<line x1="1029.0" y1="704.25" x2="1041.5" y2="704.25" stroke="#000" stroke-width="3.6"/>
<line x1="1029.0" y1="583.62" x2="1041.5" y2="583.62" stroke="#000" stroke-width="3.6"/>
<clipPath id="cpf"><rect x="1029.0" y="521.2" width="250.0" height="364.0"/></clipPath>
<g clip-path="url(#cpf)" fill="none" stroke="#bfbf00" stroke-width="8" stroke-linecap="round" stroke-linejoin="round">
<path d="M1030.9,550.9 C1039.4,552.2 1047.8,552.1 1056.3,554.8 C1066.0,557.9 1075.3,565.0 1085.6,569.5 C1096.6,574.2 1109.8,580.9 1120.4,582.2 C1129.0,583.1 1135.9,579.9 1144.2,579.2 C1153.4,578.5 1162.8,578.9 1173.2,578.2 C1185.3,577.4 1200.7,577.6 1212.6,574.3 C1223.4,571.4 1231.5,564.5 1241.9,560.7 C1253.0,556.6 1265.4,554.1 1277.1,550.9" stroke-width="10"/>
<path d="M1030.9,553.2 C1039.4,554.5 1047.8,554.4 1056.3,557.1 C1066.0,560.2 1076.3,567.4 1085.6,571.8 C1093.8,575.7 1102.6,580.1 1109.1,582.2 C1113.4,583.6 1115.9,584.3 1120.4,584.5 C1126.9,584.7 1135.9,581.8 1144.2,581.2 C1153.4,580.4 1162.8,581.2 1173.2,580.6 C1185.3,579.9 1200.7,580.0 1212.6,576.7 C1223.4,573.7 1231.5,566.8 1241.9,563.0 C1253.0,558.9 1265.4,556.5 1277.1,553.2" stroke-width="10"/>
<path d="M1030.9,589.0 C1039.4,587.7 1047.6,587.3 1056.3,585.1 C1065.8,582.7 1075.3,577.2 1085.6,574.7 C1096.6,572.1 1109.9,571.7 1120.4,570.4 C1129.1,569.4 1135.9,568.6 1144.2,567.5 C1153.4,566.3 1163.4,563.9 1173.2,563.6 C1183.0,563.3 1194.1,563.8 1202.8,565.5 C1210.2,567.0 1215.3,569.7 1222.4,572.4 C1231.2,575.7 1242.1,581.3 1251.7,584.1 C1260.3,586.6 1268.6,587.4 1277.1,589.0" stroke-width="7"/>
<path d="M1030.9,615.4 C1039.4,612.8 1047.5,610.2 1056.3,607.6 C1065.7,604.7 1075.3,600.9 1085.6,598.8 C1096.6,596.5 1110.0,594.0 1120.4,594.9 C1129.2,595.6 1135.9,599.1 1144.2,601.7 C1153.4,604.6 1164.4,611.3 1173.2,611.5 C1180.4,611.6 1186.4,607.1 1193.1,605.6 C1199.6,604.2 1205.5,602.6 1212.6,602.7 C1221.4,602.7 1231.7,605.6 1241.9,607.6 C1253.1,609.7 1265.4,612.8 1277.1,615.4" stroke-width="9"/>
<path d="M1030.9,617.7 C1039.4,615.5 1047.6,613.6 1056.3,611.1 C1065.8,608.3 1075.3,603.9 1085.6,601.7 C1096.6,599.3 1110.0,597.0 1120.4,597.8 C1129.2,598.4 1135.9,601.7 1144.2,604.0 C1153.4,606.6 1163.4,612.2 1173.2,612.4 C1183.0,612.7 1192.9,606.3 1202.8,605.2 C1212.6,604.2 1221.4,604.5 1232.2,606.0 C1245.6,607.9 1262.1,613.8 1277.1,617.7" stroke-width="9"/>
<path d="M1030.9,619.3 C1042.6,617.6 1053.1,615.6 1066.1,614.4 C1082.2,612.8 1104.4,611.7 1120.4,611.5 C1132.9,611.3 1144.4,612.0 1154.0,612.4 C1161.3,612.8 1165.6,613.4 1173.2,613.8 C1183.9,614.4 1200.4,614.7 1212.6,615.4 C1223.1,615.9 1231.7,616.6 1241.9,617.3 C1253.1,618.1 1265.4,618.9 1277.1,619.7" stroke-width="9"/>
<path d="M1030.9,630.0 C1049.1,630.2 1069.4,630.5 1085.6,630.6 C1098.5,630.7 1109.9,631.0 1120.4,630.6 C1129.1,630.3 1135.9,630.2 1144.2,629.0 C1153.4,627.8 1164.4,623.4 1173.2,623.2 C1180.4,623.0 1185.3,625.3 1193.1,626.1 C1203.9,627.3 1218.7,628.5 1232.2,629.0 C1246.6,629.6 1262.1,629.0 1277.1,629.0" stroke-width="10"/>
<path d="M1030.9,633.9 C1049.1,634.3 1069.4,634.9 1085.6,634.9 C1098.5,634.9 1109.9,634.7 1120.4,634.5 C1129.1,634.4 1135.9,633.9 1144.2,633.9 C1153.4,634.0 1162.2,634.6 1173.2,634.9 C1187.4,635.3 1205.5,636.0 1222.4,635.9 C1240.1,635.7 1258.9,634.6 1277.1,633.9" stroke-width="10"/>
<path d="M1030.9,667.1 C1042.6,666.2 1053.1,665.0 1066.1,664.2 C1082.2,663.3 1106.0,663.7 1120.4,662.3 C1130.0,661.3 1135.9,659.6 1144.2,658.4 C1153.4,657.0 1163.4,654.5 1173.2,654.4 C1183.0,654.4 1193.0,656.7 1202.8,658.4 C1212.7,660.0 1221.3,662.7 1232.2,664.2 C1245.5,666.1 1262.1,666.8 1277.1,668.1" stroke-width="8"/>
<path d="M1030.9,675.0 C1045.9,674.3 1060.9,673.5 1075.8,673.0 C1090.7,672.5 1109.3,673.5 1120.4,672.0 C1127.1,671.1 1129.9,669.2 1136.4,668.1 C1146.1,666.6 1161.6,665.1 1173.2,665.2 C1183.6,665.3 1193.0,666.7 1202.8,668.1 C1212.7,669.6 1221.3,672.8 1232.2,674.0 C1245.5,675.5 1262.1,674.6 1277.1,675.0" stroke-width="9"/>
<path d="M1030.9,677.9 C1045.9,677.6 1060.9,677.2 1075.8,676.9 C1090.7,676.7 1107.9,675.0 1120.4,676.3 C1129.6,677.3 1135.9,680.4 1144.2,681.7 C1153.4,683.1 1163.4,684.1 1173.2,684.3 C1183.0,684.4 1193.0,683.6 1202.8,682.6 C1212.7,681.5 1221.3,678.7 1232.2,677.9 C1245.5,676.9 1262.1,678.2 1277.1,678.3" stroke-width="9"/>
<path d="M1031.1,703.6 C1039.8,703.6 1047.2,703.7 1057.3,703.6 C1071.2,703.5 1096.3,703.3 1106.9,703.1 C1111.9,703.0 1113.2,702.5 1117.9,702.7 C1126.4,703.2 1143.9,706.0 1154.0,708.2 C1161.4,709.8 1165.5,713.1 1172.9,713.7 C1183.3,714.4 1198.2,709.6 1210.8,708.2 C1223.4,706.7 1236.9,705.7 1248.6,704.9 C1258.8,704.1 1267.6,703.8 1277.0,703.2"/>
<path d="M1174.8,711.5 C1186.8,709.8 1198.6,707.8 1210.8,706.5 C1223.2,705.3 1236.9,704.8 1248.6,704.0 C1258.8,703.4 1267.6,702.9 1277.0,702.4" stroke-width="9"/>
<path d="M1031.1,703.6 C1036.5,705.7 1041.6,707.6 1047.3,709.9 C1053.7,712.6 1060.6,716.8 1067.4,718.7 C1074.1,720.5 1081.1,720.9 1087.8,721.2 C1094.2,721.5 1101.2,720.9 1106.9,720.6 C1111.6,720.4 1114.4,720.1 1119.8,719.8 C1128.4,719.4 1144.3,718.0 1154.0,718.9 C1161.3,719.5 1165.5,721.7 1172.9,722.6 C1183.3,723.9 1198.2,723.9 1210.8,724.5 C1223.4,725.2 1237.0,725.4 1248.6,726.4 C1258.8,727.4 1267.6,729.0 1277.0,730.2" stroke-width="9"/>
<path d="M1210.8,725.5 C1223.4,727.1 1237.1,727.2 1248.6,730.2 C1259.0,732.9 1267.6,737.8 1277.0,741.6" stroke-width="11"/>
<path d="M1121.6,703.2 C1132.4,706.0 1144.9,709.4 1154.0,711.5 C1160.6,713.0 1165.4,713.9 1171.0,715.1"/>
<path d="M1031.1,734.7 C1039.8,732.6 1049.1,728.9 1057.3,728.5 C1064.4,728.1 1070.3,729.4 1077.6,731.0 C1086.6,733.0 1099.5,738.1 1106.9,740.4 C1111.4,741.8 1115.3,744.6 1117.9,743.7 C1119.8,743.0 1119.3,739.8 1121.6,737.8 C1126.9,733.4 1145.0,728.4 1154.0,724.5 C1160.6,721.7 1165.4,719.5 1171.0,717.0" stroke-width="12"/>
<path d="M1031.1,740.8 C1036.5,741.1 1041.6,741.3 1047.3,741.7 C1053.7,742.2 1060.8,742.4 1067.4,743.7 C1074.3,745.0 1081.1,747.7 1087.8,749.6 C1094.2,751.3 1101.4,753.2 1106.9,754.6 C1111.1,755.7 1115.4,758.6 1117.9,757.4 C1120.1,756.3 1119.1,750.6 1121.6,749.1 C1125.3,747.1 1134.9,749.6 1140.6,751.0 C1145.5,752.3 1149.1,755.2 1154.0,756.7 C1159.7,758.5 1165.5,759.6 1172.9,760.5 C1183.3,761.8 1199.1,760.9 1210.8,762.4 C1221.0,763.7 1229.0,766.6 1239.2,768.1 C1250.9,769.8 1264.4,770.6 1277.0,771.9"/>
<path d="M1031.1,743.5 C1036.5,745.5 1041.7,747.3 1047.3,749.6 C1053.7,752.1 1060.6,755.9 1067.4,758.4 C1074.1,760.8 1081.0,763.0 1087.8,764.2 C1094.2,765.4 1101.2,765.9 1106.9,765.6 C1111.6,765.3 1114.4,763.7 1119.8,763.0 C1128.4,762.0 1144.3,761.9 1154.0,761.5 C1161.2,761.1 1166.0,760.4 1172.9,760.5 C1181.4,760.6 1191.9,761.5 1201.3,762.4 C1210.8,763.3 1219.1,764.2 1229.7,766.2 C1243.5,768.8 1261.3,773.8 1277.0,777.5"/>
<path d="M1121.6,747.3 C1128.0,746.6 1134.8,745.9 1140.6,745.4 C1145.4,744.9 1149.1,744.5 1154.0,744.4 C1159.8,744.4 1166.0,744.3 1172.9,745.4 C1181.5,746.7 1191.8,750.7 1201.3,752.9 C1210.8,755.1 1221.3,759.0 1229.7,758.6 C1236.7,758.3 1241.7,754.9 1248.6,752.9 C1257.1,750.5 1267.6,747.9 1277.0,745.4"/>
<path d="M1182.4,775.6 C1190.6,768.1 1198.9,760.1 1207.0,752.9 C1214.6,746.2 1221.1,736.8 1229.7,734.0 C1238.2,731.3 1249.6,734.8 1258.1,735.9 C1265.1,736.8 1270.7,738.4 1277.0,739.7"/>
<path d="M1214.6,751.0 C1225.9,747.9 1237.8,744.2 1248.6,741.6 C1258.5,739.2 1267.6,737.8 1277.0,735.9"/>
<path d="M1031.1,773.0 C1039.8,773.3 1048.6,774.3 1057.3,774.0 C1065.8,773.7 1074.4,772.5 1082.7,771.1 C1090.9,769.6 1100.5,767.1 1106.9,765.2 C1111.3,763.9 1114.2,762.6 1117.9,761.3"/>
<path d="M1031.1,778.9 C1039.8,779.0 1048.6,779.5 1057.3,779.3 C1065.8,779.0 1074.4,778.5 1082.7,777.3 C1090.9,776.1 1100.1,773.6 1106.9,772.0 C1111.9,770.9 1114.5,768.8 1119.8,769.0 C1128.5,769.4 1144.5,778.6 1154.0,780.4 C1160.6,781.6 1165.9,781.6 1171.0,781.3 C1175.2,781.1 1177.5,780.0 1182.4,779.4 C1191.3,778.4 1208.5,777.2 1220.3,776.6 C1230.4,776.0 1239.2,775.2 1248.6,775.6 C1258.1,776.1 1267.6,778.2 1277.0,779.4" stroke-width="9"/>
<path d="M1121.6,779.4 C1132.4,782.6 1144.6,787.8 1154.0,788.9 C1161.1,789.7 1166.0,787.3 1172.9,788.0 C1181.5,788.7 1191.9,794.9 1201.3,794.6 C1210.8,794.3 1218.9,787.9 1229.7,786.1 C1243.4,783.8 1261.3,784.8 1277.0,784.2"/>
<path d="M1030.8,881.7 C1039.0,870.3 1047.2,860.1 1055.4,847.6 C1064.8,833.3 1074.4,811.6 1083.8,800.3 C1090.1,792.5 1096.1,786.6 1102.7,783.2 C1108.2,780.4 1113.1,779.5 1119.8,779.4 C1129.2,779.3 1142.6,783.8 1154.0,786.1" stroke-width="9"/>
<path d="M1171.0,792.7 C1172.3,793.3 1172.9,793.8 1174.8,794.6 C1179.6,796.4 1192.5,798.6 1201.3,802.1 C1210.8,806.0 1221.6,811.3 1229.7,817.3 C1237.1,822.8 1242.6,829.3 1248.6,836.2 C1255.2,843.7 1262.7,852.7 1267.6,860.8 C1271.8,867.8 1273.9,874.7 1277.0,881.7"/>
<path d="M1031.1,783.9 C1039.8,783.7 1049.2,782.0 1057.3,783.2 C1064.6,784.2 1072.1,787.0 1077.6,789.6 C1081.7,791.6 1085.0,794.1 1087.8,796.5 C1090.0,798.3 1090.5,800.2 1093.3,802.1 C1098.6,805.8 1110.1,811.5 1119.8,813.5 C1130.2,815.7 1144.6,813.0 1154.0,813.5 C1160.7,813.9 1165.4,814.8 1171.0,815.4"/>
<path d="M1121.6,809.7 C1128.0,810.4 1134.8,810.5 1140.6,811.6 C1145.5,812.5 1149.2,814.5 1154.0,815.4 C1159.3,816.4 1165.4,816.7 1171.0,817.3" stroke-width="11"/>
<path d="M1174.8,811.6 C1183.7,811.6 1192.7,809.0 1201.3,811.6 C1211.1,814.6 1221.6,823.5 1229.7,830.5 C1237.1,836.9 1241.6,844.0 1248.6,851.4 C1257.1,860.2 1267.6,870.3 1277.0,879.8"/>
<path d="M1191.9,821.1 C1201.3,826.1 1210.5,833.1 1220.3,836.2 C1229.5,839.2 1239.2,840.0 1248.6,840.0 C1258.1,840.0 1267.6,837.5 1277.0,836.2"/>
<path d="M1174.8,823.0 C1186.8,829.3 1199.4,836.3 1210.8,841.9 C1220.8,846.8 1230.8,850.7 1239.2,855.2 C1246.2,858.9 1251.8,862.7 1258.1,866.5 C1264.4,870.3 1270.7,874.1 1277.0,877.9"/>
<path d="M1191.9,828.6 C1204.5,835.6 1218.0,843.1 1229.7,849.5 C1239.8,855.0 1249.4,861.5 1258.1,864.6 C1264.9,867.0 1270.7,867.1 1277.0,868.4"/>
<path d="M1030.8,837.2 C1042.1,836.7 1055.2,836.9 1064.9,835.8 C1072.1,835.1 1076.7,834.4 1083.8,832.4 C1093.6,829.7 1106.5,823.6 1117.9,819.2" stroke-width="9"/>
<path d="M1030.8,857.0 C1039.0,853.9 1046.9,850.9 1055.4,847.6 C1064.5,844.0 1073.6,838.9 1083.8,836.2 C1094.9,833.3 1107.9,833.1 1119.8,831.5 C1131.3,829.9 1144.6,828.9 1154.0,826.8 C1160.8,825.2 1165.4,823.0 1171.0,821.1"/>
<path d="M1030.8,881.7 C1039.0,874.7 1046.5,866.5 1055.4,860.8 C1064.2,855.2 1074.7,851.1 1083.8,847.6 C1091.7,844.5 1099.9,841.7 1106.5,840.4 C1111.5,839.4 1114.4,840.1 1119.8,839.1 C1128.6,837.3 1142.6,832.1 1154.0,828.6" stroke-width="9"/>
<path d="M1030.8,866.5 C1035.8,865.2 1040.2,864.8 1045.9,862.7 C1054.0,859.8 1064.7,853.1 1074.3,849.5 C1083.7,845.9 1093.3,843.8 1102.7,841.0"/>
<path d="M1030.8,881.7 C1042.1,876.6 1054.1,871.8 1064.9,866.5 C1074.8,861.6 1083.9,855.2 1093.3,851.4 C1101.6,847.9 1109.7,846.3 1117.9,843.8"/>
</g>
<line x1="1120.5" y1="521.2" x2="1120.5" y2="885.2" stroke="#d3d3d3" stroke-width="4"/>
<line x1="1173.2" y1="521.2" x2="1173.2" y2="885.2" stroke="#d3d3d3" stroke-width="4"/>
<rect x="1029.0" y="521.2" width="250" height="364" fill="none" stroke="#000" stroke-width="4"/>
<text x="1016.5" y="898.5" font-size="39" text-anchor="end">0</text>
<text x="1016.5" y="777.9" font-size="39" text-anchor="end">133</text>
<text x="1016.5" y="657.2" font-size="39" text-anchor="end">266</text>
<text x="1016.5" y="536.6" font-size="39" text-anchor="end">399</text>
<text x="1025.0" y="921.8" font-size="42">Γ</text>
<text x="1116.5" y="921.8" font-size="42">M</text>
<text x="1169.2" y="921.8" font-size="42">K</text>
<text x="1275.0" y="921.8" font-size="42">Γ</text>
<text transform="translate(936.2,712.8) rotate(-90)" font-size="43" text-anchor="middle">Frequency (cm<tspan font-size="30" dy="-17">−1</tspan><tspan dy="17">)</tspan></text>
<text x="1154.0" y="978.7" font-size="41" text-anchor="middle">(f):C2/m-trilayer</text>
</svg></body></html>
